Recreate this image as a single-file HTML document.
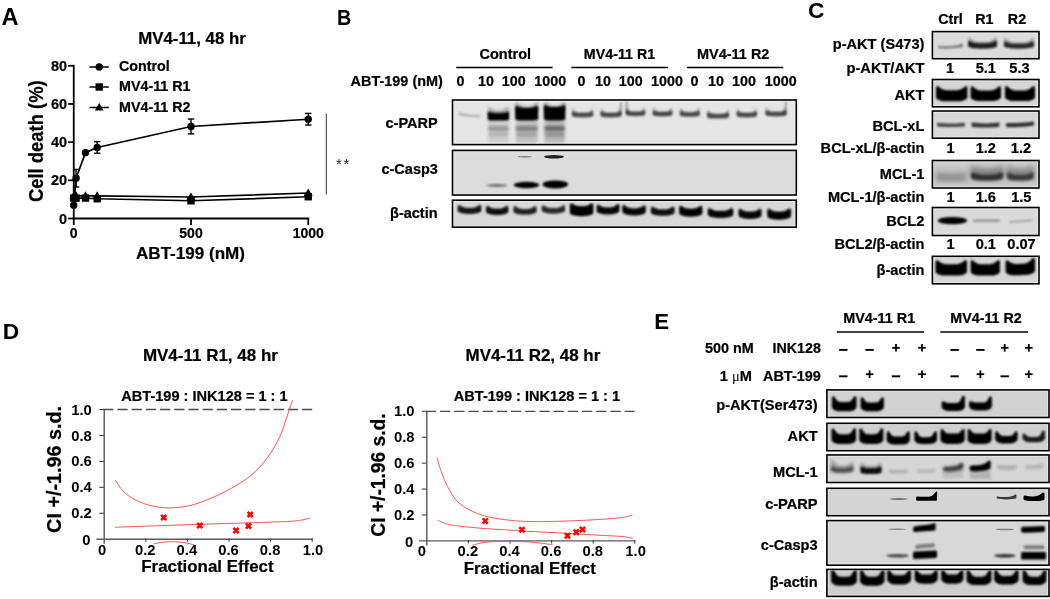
<!DOCTYPE html>
<html lang="en"><head><meta charset="utf-8"><title>Figure</title>
<style>html,body{margin:0;padding:0;background:#fff}svg{display:block}</style></head>
<body>
<svg width="1050" height="599" viewBox="0 0 1050 599" font-family='"Liberation Sans", Arial, Helvetica, sans-serif'>
<defs>
<filter id="b1" filterUnits="userSpaceOnUse" x="0" y="0" width="1050" height="599"><feGaussianBlur stdDeviation="0.9"/></filter>
<filter id="b2" filterUnits="userSpaceOnUse" x="0" y="0" width="1050" height="599"><feGaussianBlur stdDeviation="1.6"/></filter>
<filter id="b3" filterUnits="userSpaceOnUse" x="0" y="0" width="1050" height="599"><feGaussianBlur stdDeviation="2.5"/></filter>
<filter id="b0" filterUnits="userSpaceOnUse" x="0" y="0" width="1050" height="599"><feGaussianBlur stdDeviation="0.6"/></filter>
</defs>
<rect width="1050" height="599" fill="#fff"/>
<text x="1.6" y="25.2" font-size="23.6" text-anchor="start" font-weight="700" fill="#000" >A</text>
<text x="337.1" y="24.6" font-size="22.8" text-anchor="start" font-weight="700" fill="#000" textLength="14.3" lengthAdjust="spacingAndGlyphs" >B</text>
<text x="808" y="17.8" font-size="22.8" text-anchor="start" font-weight="700" fill="#000" >C</text>
<text x="2.8" y="338.9" font-size="22.8" text-anchor="start" font-weight="700" fill="#000" >D</text>
<text x="654.2" y="329.2" font-size="22.2" text-anchor="start" font-weight="700" fill="#000" >E</text>
<text x="192" y="43.6" font-size="16" text-anchor="middle" font-weight="bold" fill="#000" stroke="#000" stroke-width=".22" textLength="107.5" lengthAdjust="spacingAndGlyphs" >MV4-11, 48 hr</text>
<line x1="73.75" y1="64.9" x2="73.75" y2="219.4" stroke="#000" stroke-width="1.8" />
<line x1="72.85" y1="218.5" x2="309.2" y2="218.5" stroke="#000" stroke-width="1.8" />
<line x1="68.15" y1="218.5" x2="73.75" y2="218.5" stroke="#000" stroke-width="1.8" />
<text x="67.2" y="223.5" font-size="14.5" text-anchor="end" font-weight="bold" fill="#000" stroke="#000" stroke-width=".22" >0</text>
<line x1="68.15" y1="180.32" x2="73.75" y2="180.32" stroke="#000" stroke-width="1.8" />
<text x="67.2" y="185.32" font-size="14.5" text-anchor="end" font-weight="bold" fill="#000" stroke="#000" stroke-width=".22" >20</text>
<line x1="68.15" y1="142.14" x2="73.75" y2="142.14" stroke="#000" stroke-width="1.8" />
<text x="67.2" y="147.14" font-size="14.5" text-anchor="end" font-weight="bold" fill="#000" stroke="#000" stroke-width=".22" >40</text>
<line x1="68.15" y1="103.96" x2="73.75" y2="103.96" stroke="#000" stroke-width="1.8" />
<text x="67.2" y="108.96" font-size="14.5" text-anchor="end" font-weight="bold" fill="#000" stroke="#000" stroke-width=".22" >60</text>
<line x1="68.15" y1="65.78" x2="73.75" y2="65.78" stroke="#000" stroke-width="1.8" />
<text x="67.2" y="70.78" font-size="14.5" text-anchor="end" font-weight="bold" fill="#000" stroke="#000" stroke-width=".22" >80</text>
<line x1="73.75" y1="218.5" x2="73.75" y2="225" stroke="#000" stroke-width="1.8" />
<text x="73.75" y="238.2" font-size="14" text-anchor="middle" font-weight="bold" fill="#000" stroke="#000" stroke-width=".22" >0</text>
<line x1="191.0" y1="218.5" x2="191.0" y2="225" stroke="#000" stroke-width="1.8" />
<text x="191.0" y="238.2" font-size="14" text-anchor="middle" font-weight="bold" fill="#000" stroke="#000" stroke-width=".22" >500</text>
<line x1="308.25" y1="218.5" x2="308.25" y2="225" stroke="#000" stroke-width="1.8" />
<text x="308.25" y="238.2" font-size="14" text-anchor="middle" font-weight="bold" fill="#000" stroke="#000" stroke-width=".22" >1000</text>
<text x="190.5" y="259.4" font-size="17" text-anchor="middle" font-weight="bold" fill="#000" stroke="#000" stroke-width=".22" textLength="109" lengthAdjust="spacingAndGlyphs" >ABT-199 (nM)</text>
<text transform="translate(42.8,141.2) rotate(-90)" font-size="19.5" font-weight="bold" stroke="#000" stroke-width=".22" text-anchor="middle" textLength="121.8" lengthAdjust="spacingAndGlyphs">Cell death (%)</text>
<line x1="89.5" y1="67" x2="108.8" y2="67" stroke="#000" stroke-width="1.5" />
<circle cx="99.2" cy="67" r="3.7"/>
<text x="119" y="71.2" font-size="14.3" text-anchor="start" font-weight="bold" fill="#000" stroke="#000" stroke-width=".22" >Control</text>
<line x1="89.5" y1="87" x2="108.8" y2="87" stroke="#000" stroke-width="1.5" />
<rect x="95.5" y="83.3" width="7.4" height="7.4"/>
<text x="119" y="91.2" font-size="14.3" text-anchor="start" font-weight="bold" fill="#000" stroke="#000" stroke-width=".22" >MV4-11 R1</text>
<line x1="89.5" y1="107.5" x2="108.8" y2="107.5" stroke="#000" stroke-width="1.5" />
<path d="M99.2,102.9 l4.4,7.6 h-8.8 z"/>
<text x="119" y="111.7" font-size="14.3" text-anchor="start" font-weight="bold" fill="#000" stroke="#000" stroke-width=".22" >MV4-11 R2</text>
<polyline points="73.75,198.07 76.09,198.07 85.47,198.07 97.20,198.74 191.00,200.75 308.25,196.74" fill="none" stroke="#000" stroke-width="1.7"/>
<polyline points="73.75,195.97 76.09,195.97 85.47,195.97 97.20,195.97 191.00,197.02 308.25,193.01" fill="none" stroke="#000" stroke-width="1.7"/>
<polyline points="73.75,205.14 76.09,178.22 85.47,152.64 97.20,147.49 191.00,126.49 308.25,119.23" fill="none" stroke="#000" stroke-width="1.7"/>
<circle cx="73.75" cy="205.14" r="3.7"/>
<line x1="76.095" y1="187.0015" x2="76.095" y2="169.43869999999998" stroke="#000" stroke-width="1.4" />
<line x1="72.895" y1="187.0015" x2="79.295" y2="187.0015" stroke="#000" stroke-width="1.4" />
<line x1="72.895" y1="169.43869999999998" x2="79.295" y2="169.43869999999998" stroke="#000" stroke-width="1.4" />
<circle cx="76.09" cy="178.22" r="3.7"/>
<circle cx="85.47" cy="152.64" r="3.7"/>
<line x1="97.2" y1="153.30764999999997" x2="97.2" y2="141.66275000000002" stroke="#000" stroke-width="1.4" />
<line x1="94.0" y1="153.30764999999997" x2="100.4" y2="153.30764999999997" stroke="#000" stroke-width="1.4" />
<line x1="94.0" y1="141.66275000000002" x2="100.4" y2="141.66275000000002" stroke="#000" stroke-width="1.4" />
<circle cx="97.20" cy="147.49" r="3.7"/>
<line x1="191.0" y1="133.9313" x2="191.0" y2="119.0411" stroke="#000" stroke-width="1.4" />
<line x1="187.8" y1="133.9313" x2="194.2" y2="133.9313" stroke="#000" stroke-width="1.4" />
<line x1="187.8" y1="119.0411" x2="194.2" y2="119.0411" stroke="#000" stroke-width="1.4" />
<circle cx="191.00" cy="126.49" r="3.7"/>
<line x1="308.25" y1="125.05444999999999" x2="308.25" y2="113.40955000000001" stroke="#000" stroke-width="1.4" />
<line x1="305.05" y1="125.05444999999999" x2="311.45" y2="125.05444999999999" stroke="#000" stroke-width="1.4" />
<line x1="305.05" y1="113.40955000000001" x2="311.45" y2="113.40955000000001" stroke="#000" stroke-width="1.4" />
<circle cx="308.25" cy="119.23" r="3.7"/>
<rect x="70.05" y="194.37" width="7.4" height="7.4"/>
<rect x="72.39" y="194.37" width="7.4" height="7.4"/>
<rect x="81.77" y="194.37" width="7.4" height="7.4"/>
<rect x="93.50" y="195.04" width="7.4" height="7.4"/>
<rect x="187.30" y="197.05" width="7.4" height="7.4"/>
<rect x="304.55" y="193.04" width="7.4" height="7.4"/>
<path d="M73.75,191.37 l4.4,7.6 h-8.8 z"/>
<path d="M76.09,191.37 l4.4,7.6 h-8.8 z"/>
<path d="M85.47,191.37 l4.4,7.6 h-8.8 z"/>
<path d="M97.20,191.37 l4.4,7.6 h-8.8 z"/>
<path d="M191.00,192.42 l4.4,7.6 h-8.8 z"/>
<path d="M308.25,188.41 l4.4,7.6 h-8.8 z"/>
<line x1="326.3" y1="113.8" x2="326.3" y2="194.5" stroke="#333" stroke-width="1" />
<text x="336" y="168.5" font-size="15" text-anchor="start" font-weight="normal" fill="#222" letter-spacing="1.7">**</text>
<text x="505.3" y="59" font-size="14.3" text-anchor="middle" font-weight="bold" fill="#000" stroke="#000" stroke-width=".22" textLength="51.7" lengthAdjust="spacingAndGlyphs" >Control</text>
<text x="619.5" y="59" font-size="14.3" text-anchor="middle" font-weight="bold" fill="#000" stroke="#000" stroke-width=".22" textLength="71.4" lengthAdjust="spacingAndGlyphs" >MV4-11 R1</text>
<text x="733.2" y="59" font-size="14.3" text-anchor="middle" font-weight="bold" fill="#000" stroke="#000" stroke-width=".22" textLength="72.5" lengthAdjust="spacingAndGlyphs" >MV4-11 R2</text>
<line x1="456.2" y1="67.6" x2="552.6" y2="67.6" stroke="#000" stroke-width="1.5" />
<line x1="571.4" y1="67.6" x2="667.9" y2="67.6" stroke="#000" stroke-width="1.5" />
<line x1="687" y1="67.6" x2="783.3" y2="67.6" stroke="#000" stroke-width="1.5" />
<text x="442.9" y="86" font-size="14.5" text-anchor="end" font-weight="bold" fill="#000" stroke="#000" stroke-width=".22" textLength="92.4" lengthAdjust="spacingAndGlyphs" >ABT-199 (nM)</text>
<text x="460.5" y="86" font-size="14.3" text-anchor="middle" font-weight="bold" fill="#000" stroke="#000" stroke-width=".22" >0</text>
<text x="486" y="86" font-size="14.3" text-anchor="middle" font-weight="bold" fill="#000" stroke="#000" stroke-width=".22" >10</text>
<text x="513.8" y="86" font-size="14.3" text-anchor="middle" font-weight="bold" fill="#000" stroke="#000" stroke-width=".22" >100</text>
<text x="550.2" y="86" font-size="14.3" text-anchor="middle" font-weight="bold" fill="#000" stroke="#000" stroke-width=".22" >1000</text>
<text x="581.4" y="86" font-size="14.3" text-anchor="middle" font-weight="bold" fill="#000" stroke="#000" stroke-width=".22" >0</text>
<text x="603" y="86" font-size="14.3" text-anchor="middle" font-weight="bold" fill="#000" stroke="#000" stroke-width=".22" >10</text>
<text x="630.7" y="86" font-size="14.3" text-anchor="middle" font-weight="bold" fill="#000" stroke="#000" stroke-width=".22" >100</text>
<text x="667" y="86" font-size="14.3" text-anchor="middle" font-weight="bold" fill="#000" stroke="#000" stroke-width=".22" >1000</text>
<text x="694.5" y="86" font-size="14.3" text-anchor="middle" font-weight="bold" fill="#000" stroke="#000" stroke-width=".22" >0</text>
<text x="716" y="86" font-size="14.3" text-anchor="middle" font-weight="bold" fill="#000" stroke="#000" stroke-width=".22" >10</text>
<text x="744" y="86" font-size="14.3" text-anchor="middle" font-weight="bold" fill="#000" stroke="#000" stroke-width=".22" >100</text>
<text x="780.7" y="86" font-size="14.3" text-anchor="middle" font-weight="bold" fill="#000" stroke="#000" stroke-width=".22" >1000</text>
<text x="437.6" y="127.6" font-size="14.5" text-anchor="end" font-weight="bold" fill="#000" stroke="#000" stroke-width=".22" >c-PARP</text>
<text x="437.9" y="174.3" font-size="14.5" text-anchor="end" font-weight="bold" fill="#000" stroke="#000" stroke-width=".22" >c-Casp3</text>
<text x="437.6" y="217.6" font-size="14.5" text-anchor="end" font-weight="bold" fill="#000" stroke="#000" stroke-width=".22" >β-actin</text>
<clipPath id="cb1"><rect x="452.5" y="100" width="343.79999999999995" height="44.599999999999994"/></clipPath>
<rect x="452.5" y="100" width="343.79999999999995" height="44.599999999999994" fill="#e5e5e5"/>
<g clip-path="url(#cb1)">
<path d="M459.33,112.98 C463.32,114.64 475.28,115.84 479.27,115.38 L479.27,116.78 C475.28,116.77 463.32,115.57 459.33,114.38 Z" fill="#000" stroke="#000" stroke-width="1.56" stroke-linejoin="round" opacity="0.2" filter="url(#b1)"/>
<rect x="488.15" y="119" width="20.5" height="24" fill="#000" fill-opacity="0.1" filter="url(#b2)"/>
<path d="M489.65,127.40 C493.15,127.40 503.65,127.40 507.15,127.40 L507.15,129.40 C503.65,129.40 493.15,129.40 489.65,129.40 Z" fill="#000" stroke="#000" stroke-width="3.00" stroke-linejoin="round" opacity="0.26" filter="url(#b2)"/>
<path d="M489.70,133.80 C493.18,133.80 503.62,133.80 507.10,133.80 L507.10,135.20 C503.62,135.20 493.18,135.20 489.70,135.20 Z" fill="#000" stroke="#000" stroke-width="2.10" stroke-linejoin="round" opacity="0.14300000000000002" filter="url(#b2)"/>
<rect x="515.7" y="119" width="22" height="24" fill="#000" fill-opacity="0.16" filter="url(#b2)"/>
<path d="M517.20,127.40 C521.00,127.40 532.40,127.40 536.20,127.40 L536.20,129.40 C532.40,129.40 521.00,129.40 517.20,129.40 Z" fill="#000" stroke="#000" stroke-width="3.00" stroke-linejoin="round" opacity="0.32" filter="url(#b2)"/>
<path d="M517.25,133.80 C521.03,133.80 532.37,133.80 536.15,133.80 L536.15,135.20 C532.37,135.20 521.03,135.20 517.25,135.20 Z" fill="#000" stroke="#000" stroke-width="2.10" stroke-linejoin="round" opacity="0.17600000000000002" filter="url(#b2)"/>
<rect x="544.35" y="119" width="20.5" height="24" fill="#000" fill-opacity="0.2" filter="url(#b2)"/>
<path d="M545.85,127.40 C549.35,127.40 559.85,127.40 563.35,127.40 L563.35,129.40 C559.85,129.40 549.35,129.40 545.85,129.40 Z" fill="#000" stroke="#000" stroke-width="3.00" stroke-linejoin="round" opacity="0.42" filter="url(#b2)"/>
<path d="M545.90,133.80 C549.38,133.80 559.82,133.80 563.30,133.80 L563.30,135.20 C559.82,135.20 549.38,135.20 545.90,135.20 Z" fill="#000" stroke="#000" stroke-width="2.10" stroke-linejoin="round" opacity="0.231" filter="url(#b2)"/>
<path d="M489.15,108.50 C492.85,113.16 503.95,113.16 507.65,108.50 L507.65,113.00 C503.95,114.33 492.85,114.33 489.15,113.00 Z" fill="#000" stroke="#000" stroke-width="3.00" stroke-linejoin="round" opacity="0.28" filter="url(#b2)"/>
<path d="M489.15,113.30 C492.85,114.90 503.95,114.90 507.65,113.30 L507.65,118.70 C503.95,119.23 492.85,119.23 489.15,118.70 Z" fill="#000" stroke="#000" stroke-width="3.00" stroke-linejoin="round" opacity="1" filter="url(#b1)"/>
<path d="M516.70,104.00 C520.70,109.32 532.70,109.32 536.70,104.00 L536.70,110.00 C532.70,111.33 520.70,111.33 516.70,110.00 Z" fill="#000" stroke="#000" stroke-width="3.00" stroke-linejoin="round" opacity="0.3" filter="url(#b2)"/>
<path d="M516.70,107.50 C520.70,110.16 532.70,110.16 536.70,107.50 L536.70,118.60 C532.70,119.27 520.70,119.27 516.70,118.60 Z" fill="#000" stroke="#000" stroke-width="3.00" stroke-linejoin="round" opacity="1" filter="url(#b1)"/>
<path d="M545.35,103.50 C549.05,108.82 560.15,108.82 563.85,103.50 L563.85,109.50 C560.15,110.83 549.05,110.83 545.35,109.50 Z" fill="#000" stroke="#000" stroke-width="3.00" stroke-linejoin="round" opacity="0.3" filter="url(#b2)"/>
<path d="M545.35,106.60 C549.05,109.26 560.15,109.26 563.85,106.60 L563.85,118.50 C560.15,119.17 549.05,119.17 545.35,118.50 Z" fill="#000" stroke="#000" stroke-width="3.00" stroke-linejoin="round" opacity="1" filter="url(#b1)"/>
<path d="M573.0,109.3 L574.4,111.4 L575.8,112.4 L577.1,112.9 L578.5,113.1 L579.9,113.1 L581.2,113.1 L582.6,113.1 L584.0,113.1 L585.3,113.1 L586.7,113.1 L588.1,112.9 L589.4,112.4 L590.8,111.4 L592.2,109.3 L592.2,113.3 L590.8,113.8 L589.4,114.2 L588.1,114.4 L586.7,114.4 L585.3,114.5 L584.0,114.5 L582.6,114.5 L581.2,114.5 L579.9,114.5 L578.5,114.4 L577.1,114.4 L575.8,114.2 L574.4,113.8 L573.0,113.3 Z" fill="#000" stroke="#000" stroke-width="2.04" stroke-linejoin="round" opacity="0.2" filter="url(#b1)"/>
<path d="M573.3,112.8 L574.6,113.4 L576.0,113.9 L577.3,114.1 L578.6,114.2 L579.9,114.3 L581.3,114.3 L582.6,114.3 L583.9,114.3 L585.3,114.3 L586.6,114.2 L587.9,114.1 L589.2,113.9 L590.6,113.4 L591.9,112.8 L591.9,115.4 L590.6,115.7 L589.2,115.9 L587.9,116.0 L586.6,116.0 L585.3,116.1 L583.9,116.1 L582.6,116.1 L581.3,116.1 L579.9,116.1 L578.6,116.0 L577.3,116.0 L576.0,115.9 L574.6,115.7 L573.3,115.4 Z" fill="#000" stroke="#000" stroke-width="2.64" stroke-linejoin="round" opacity="0.64" filter="url(#b1)"/>
<path d="M601.5,109.3 L602.9,111.4 L604.2,112.4 L605.6,112.9 L606.9,113.1 L608.3,113.1 L609.6,113.1 L611.0,113.1 L612.4,113.1 L613.7,113.1 L615.1,113.1 L616.4,112.9 L617.8,112.4 L619.1,111.4 L620.5,109.3 L620.5,113.3 L619.1,113.8 L617.8,114.2 L616.4,114.4 L615.1,114.4 L613.7,114.5 L612.4,114.5 L611.0,114.5 L609.6,114.5 L608.3,114.5 L606.9,114.4 L605.6,114.4 L604.2,114.2 L602.9,113.8 L601.5,113.3 Z" fill="#000" stroke="#000" stroke-width="2.04" stroke-linejoin="round" opacity="0.2" filter="url(#b1)"/>
<path d="M601.8,112.8 L603.1,113.4 L604.4,113.9 L605.8,114.1 L607.1,114.2 L608.4,114.3 L609.7,114.3 L611.0,114.3 L612.3,114.3 L613.6,114.3 L614.9,114.2 L616.2,114.1 L617.6,113.9 L618.9,113.4 L620.2,112.8 L620.2,115.4 L618.9,115.7 L617.6,115.9 L616.2,116.0 L614.9,116.0 L613.6,116.1 L612.3,116.1 L611.0,116.1 L609.7,116.1 L608.4,116.1 L607.1,116.0 L605.8,116.0 L604.4,115.9 L603.1,115.7 L601.8,115.4 Z" fill="#000" stroke="#000" stroke-width="2.64" stroke-linejoin="round" opacity="0.64" filter="url(#b1)"/>
<path d="M620.3,115.2 L620.9,102.2" stroke="#000" stroke-opacity=".3" stroke-width="2" filter="url(#b1)"/>
<path d="M626.9,108.1 L628.1,110.2 L629.4,111.2 L630.6,111.7 L631.9,111.9 L633.1,111.9 L634.4,111.9 L635.6,111.9 L636.8,111.9 L638.1,111.9 L639.3,111.9 L640.6,111.7 L641.8,111.2 L643.1,110.2 L644.3,108.1 L644.3,112.1 L643.1,112.6 L641.8,113.0 L640.6,113.2 L639.3,113.2 L638.1,113.3 L636.8,113.3 L635.6,113.3 L634.4,113.3 L633.1,113.3 L631.9,113.2 L630.6,113.2 L629.4,113.0 L628.1,112.6 L626.9,112.1 Z" fill="#000" stroke="#000" stroke-width="2.04" stroke-linejoin="round" opacity="0.2" filter="url(#b1)"/>
<path d="M627.2,111.6 L628.4,112.2 L629.6,112.7 L630.8,112.9 L632.0,113.0 L633.2,113.1 L634.4,113.1 L635.6,113.1 L636.8,113.1 L638.0,113.1 L639.2,113.0 L640.4,112.9 L641.6,112.7 L642.8,112.2 L644.0,111.6 L644.0,114.2 L642.8,114.5 L641.6,114.7 L640.4,114.8 L639.2,114.8 L638.0,114.9 L636.8,114.9 L635.6,114.9 L634.4,114.9 L633.2,114.9 L632.0,114.8 L630.8,114.8 L629.6,114.7 L628.4,114.5 L627.2,114.2 Z" fill="#000" stroke="#000" stroke-width="2.64" stroke-linejoin="round" opacity="0.64" filter="url(#b1)"/>
<path d="M627.0500000000001,114 L626.45,101" stroke="#000" stroke-opacity=".3" stroke-width="2" filter="url(#b1)"/>
<path d="M653.7,108.3 L654.9,110.4 L656.2,111.4 L657.5,111.9 L658.7,112.1 L660.0,112.1 L661.2,112.1 L662.5,112.1 L663.8,112.1 L665.0,112.1 L666.3,112.1 L667.5,111.9 L668.8,111.4 L670.1,110.4 L671.3,108.3 L671.3,112.3 L670.1,112.8 L668.8,113.2 L667.5,113.4 L666.3,113.4 L665.0,113.5 L663.8,113.5 L662.5,113.5 L661.2,113.5 L660.0,113.5 L658.7,113.4 L657.5,113.4 L656.2,113.2 L654.9,112.8 L653.7,112.3 Z" fill="#000" stroke="#000" stroke-width="2.04" stroke-linejoin="round" opacity="0.2" filter="url(#b1)"/>
<path d="M654.0,111.8 L655.2,112.4 L656.4,112.9 L657.6,113.1 L658.8,113.2 L660.1,113.3 L661.3,113.3 L662.5,113.3 L663.7,113.3 L664.9,113.3 L666.2,113.2 L667.4,113.1 L668.6,112.9 L669.8,112.4 L671.0,111.8 L671.0,114.4 L669.8,114.7 L668.6,114.9 L667.4,115.0 L666.2,115.0 L664.9,115.1 L663.7,115.1 L662.5,115.1 L661.3,115.1 L660.1,115.1 L658.8,115.0 L657.6,115.0 L656.4,114.9 L655.2,114.7 L654.0,114.4 Z" fill="#000" stroke="#000" stroke-width="2.64" stroke-linejoin="round" opacity="0.64" filter="url(#b1)"/>
<path d="M680.8,108.7 L682.1,110.8 L683.4,111.8 L684.7,112.3 L686.0,112.5 L687.2,112.5 L688.5,112.5 L689.8,112.5 L691.1,112.5 L692.4,112.5 L693.6,112.5 L694.9,112.3 L696.2,111.8 L697.5,110.8 L698.8,108.7 L698.8,112.7 L697.5,113.2 L696.2,113.6 L694.9,113.8 L693.6,113.8 L692.4,113.9 L691.1,113.9 L689.8,113.9 L688.5,113.9 L687.2,113.9 L686.0,113.8 L684.7,113.8 L683.4,113.6 L682.1,113.2 L680.8,112.7 Z" fill="#000" stroke="#000" stroke-width="2.04" stroke-linejoin="round" opacity="0.2" filter="url(#b1)"/>
<path d="M681.1,112.2 L682.4,112.8 L683.6,113.3 L684.8,113.5 L686.1,113.6 L687.3,113.7 L688.6,113.7 L689.8,113.7 L691.0,113.7 L692.3,113.7 L693.5,113.6 L694.8,113.5 L696.0,113.3 L697.2,112.8 L698.5,112.2 L698.5,114.8 L697.2,115.1 L696.0,115.3 L694.8,115.4 L693.5,115.4 L692.3,115.5 L691.0,115.5 L689.8,115.5 L688.6,115.5 L687.3,115.5 L686.1,115.4 L684.8,115.4 L683.6,115.3 L682.4,115.1 L681.1,114.8 Z" fill="#000" stroke="#000" stroke-width="2.64" stroke-linejoin="round" opacity="0.64" filter="url(#b1)"/>
<path d="M708.0,110.5 L709.4,112.6 L710.9,113.6 L712.3,114.1 L713.7,114.3 L715.1,114.3 L716.6,114.3 L718.0,114.3 L719.4,114.3 L720.9,114.3 L722.3,114.3 L723.7,114.1 L725.1,113.6 L726.6,112.6 L728.0,110.5 L728.0,114.5 L726.6,115.0 L725.1,115.4 L723.7,115.6 L722.3,115.6 L720.9,115.7 L719.4,115.7 L718.0,115.7 L716.6,115.7 L715.1,115.7 L713.7,115.6 L712.3,115.6 L710.9,115.4 L709.4,115.0 L708.0,114.5 Z" fill="#000" stroke="#000" stroke-width="2.04" stroke-linejoin="round" opacity="0.2" filter="url(#b1)"/>
<path d="M708.3,114.0 L709.7,114.6 L711.1,115.1 L712.5,115.3 L713.9,115.4 L715.2,115.5 L716.6,115.5 L718.0,115.5 L719.4,115.5 L720.8,115.5 L722.1,115.4 L723.5,115.3 L724.9,115.1 L726.3,114.6 L727.7,114.0 L727.7,116.6 L726.3,116.9 L724.9,117.1 L723.5,117.2 L722.1,117.2 L720.8,117.3 L719.4,117.3 L718.0,117.3 L716.6,117.3 L715.2,117.3 L713.9,117.2 L712.5,117.2 L711.1,117.1 L709.7,116.9 L708.3,116.6 Z" fill="#000" stroke="#000" stroke-width="2.64" stroke-linejoin="round" opacity="0.64" filter="url(#b1)"/>
<path d="M737.6,109.3 L738.9,111.4 L740.2,112.4 L741.5,112.9 L742.8,113.1 L744.2,113.1 L745.5,113.1 L746.8,113.1 L748.1,113.1 L749.4,113.1 L750.8,113.1 L752.1,112.9 L753.4,112.4 L754.7,111.4 L756.0,109.3 L756.0,113.3 L754.7,113.8 L753.4,114.2 L752.1,114.4 L750.8,114.4 L749.4,114.5 L748.1,114.5 L746.8,114.5 L745.5,114.5 L744.2,114.5 L742.8,114.4 L741.5,114.4 L740.2,114.2 L738.9,113.8 L737.6,113.3 Z" fill="#000" stroke="#000" stroke-width="2.04" stroke-linejoin="round" opacity="0.2" filter="url(#b1)"/>
<path d="M737.9,112.8 L739.1,113.4 L740.4,113.9 L741.7,114.1 L743.0,114.2 L744.2,114.3 L745.5,114.3 L746.8,114.3 L748.1,114.3 L749.4,114.3 L750.6,114.2 L751.9,114.1 L753.2,113.9 L754.5,113.4 L755.7,112.8 L755.7,115.4 L754.5,115.7 L753.2,115.9 L751.9,116.0 L750.6,116.0 L749.4,116.1 L748.1,116.1 L746.8,116.1 L745.5,116.1 L744.2,116.1 L743.0,116.0 L741.7,116.0 L740.4,115.9 L739.1,115.7 L737.9,115.4 Z" fill="#000" stroke="#000" stroke-width="2.64" stroke-linejoin="round" opacity="0.64" filter="url(#b1)"/>
<path d="M766.5,108.3 L767.9,110.4 L769.2,111.4 L770.6,111.9 L771.9,112.1 L773.3,112.1 L774.6,112.1 L776.0,112.1 L777.4,112.1 L778.7,112.1 L780.1,112.1 L781.4,111.9 L782.8,111.4 L784.1,110.4 L785.5,108.3 L785.5,112.3 L784.1,112.8 L782.8,113.2 L781.4,113.4 L780.1,113.4 L778.7,113.5 L777.4,113.5 L776.0,113.5 L774.6,113.5 L773.3,113.5 L771.9,113.4 L770.6,113.4 L769.2,113.2 L767.9,112.8 L766.5,112.3 Z" fill="#000" stroke="#000" stroke-width="2.04" stroke-linejoin="round" opacity="0.2" filter="url(#b1)"/>
<path d="M766.8,111.8 L768.1,112.4 L769.4,112.9 L770.8,113.1 L772.1,113.2 L773.4,113.3 L774.7,113.3 L776.0,113.3 L777.3,113.3 L778.6,113.3 L779.9,113.2 L781.2,113.1 L782.6,112.9 L783.9,112.4 L785.2,111.8 L785.2,114.4 L783.9,114.7 L782.6,114.9 L781.2,115.0 L779.9,115.0 L778.6,115.1 L777.3,115.1 L776.0,115.1 L774.7,115.1 L773.4,115.1 L772.1,115.0 L770.8,115.0 L769.4,114.9 L768.1,114.7 L766.8,114.4 Z" fill="#000" stroke="#000" stroke-width="2.64" stroke-linejoin="round" opacity="0.64" filter="url(#b1)"/>
<path d="M785.3,114.2 L785.9,101.2" stroke="#000" stroke-opacity=".3" stroke-width="2" filter="url(#b1)"/>
</g>
<rect x="453.8" y="101.3" width="341.19999999999993" height="41.99999999999999" fill="none" stroke="#fff" stroke-opacity=".4" stroke-width="1"/>
<rect x="452.5" y="100" width="343.79999999999995" height="44.599999999999994" fill="none" stroke="#000" stroke-width="1.6"/>
<clipPath id="cb2"><rect x="452.5" y="150.4" width="343.79999999999995" height="44.599999999999994"/></clipPath>
<rect x="452.5" y="150.4" width="343.79999999999995" height="44.599999999999994" fill="#dcdcdc"/>
<g clip-path="url(#cb2)">
<ellipse cx="497" cy="185.5" rx="10.5" ry="1.4" fill="#000" opacity="0.5" filter="url(#b1)"/>
<ellipse cx="526.5" cy="185" rx="12.75" ry="3.3" fill="#000" opacity="1" filter="url(#b1)"/>
<ellipse cx="524.8" cy="156.7" rx="7.5" ry="0.75" fill="#000" opacity="0.4" filter="url(#b0)"/>
<ellipse cx="555.3" cy="184.4" rx="12.75" ry="4.0" fill="#000" opacity="1" filter="url(#b1)"/>
<ellipse cx="554" cy="156.7" rx="10.0" ry="1.7" fill="#000" opacity="0.85" filter="url(#b0)"/>
</g>
<rect x="453.8" y="151.70000000000002" width="341.19999999999993" height="41.99999999999999" fill="none" stroke="#fff" stroke-opacity=".4" stroke-width="1"/>
<rect x="452.5" y="150.4" width="343.79999999999995" height="44.599999999999994" fill="none" stroke="#000" stroke-width="1.6"/>
<clipPath id="cb3"><rect x="452.5" y="200.2" width="343.79999999999995" height="27.0"/></clipPath>
<rect x="452.5" y="200.2" width="343.79999999999995" height="27.0" fill="#d8d8d8"/>
<g clip-path="url(#cb3)">
<path d="M459.0,205.4 L460.5,206.7 L462.0,207.6 L463.5,208.3 L465.0,208.7 L466.5,208.9 L468.0,208.9 L469.5,209.0 L471.0,208.9 L472.5,208.9 L474.0,208.7 L475.5,208.3 L477.0,207.6 L478.5,206.7 L480.0,205.4 L480.0,209.0 L478.5,209.6 L477.0,210.1 L475.5,210.3 L474.0,210.5 L472.5,210.6 L471.0,210.6 L469.5,210.6 L468.0,210.6 L466.5,210.6 L465.0,210.5 L463.5,210.3 L462.0,210.1 L460.5,209.6 L459.0,209.0 Z" fill="#000" stroke="#000" stroke-width="2.52" stroke-linejoin="round" opacity="0.2" filter="url(#b1)"/>
<path d="M459.2,206.9 L460.7,207.8 L462.2,208.4 L463.6,208.9 L465.1,209.2 L466.6,209.4 L468.0,209.5 L469.5,209.5 L471.0,209.5 L472.4,209.4 L473.9,209.2 L475.4,208.9 L476.8,208.4 L478.3,207.8 L479.8,206.9 L479.8,210.7 L478.3,211.3 L476.8,211.7 L475.4,212.1 L473.9,212.3 L472.4,212.4 L471.0,212.5 L469.5,212.5 L468.0,212.5 L466.6,212.4 L465.1,212.3 L463.6,212.1 L462.2,211.7 L460.7,211.3 L459.2,210.7 Z" fill="#000" stroke="#000" stroke-width="3.00" stroke-linejoin="round" opacity="0.88" filter="url(#b1)"/>
<path d="M487.4,206.2 L488.8,207.6 L490.2,208.5 L491.6,209.2 L493.0,209.5 L494.4,209.7 L495.8,209.8 L497.2,209.8 L498.6,209.8 L500.0,209.7 L501.4,209.5 L502.8,209.2 L504.2,208.5 L505.6,207.6 L507.0,206.2 L507.0,210.0 L505.6,210.6 L504.2,211.0 L502.8,211.3 L501.4,211.4 L500.0,211.5 L498.6,211.6 L497.2,211.6 L495.8,211.6 L494.4,211.5 L493.0,211.4 L491.6,211.3 L490.2,211.0 L488.8,210.6 L487.4,210.0 Z" fill="#000" stroke="#000" stroke-width="2.60" stroke-linejoin="round" opacity="0.2" filter="url(#b1)"/>
<path d="M487.6,207.7 L488.9,208.6 L490.3,209.2 L491.7,209.7 L493.1,210.0 L494.4,210.2 L495.8,210.3 L497.2,210.3 L498.6,210.3 L500.0,210.2 L501.3,210.0 L502.7,209.7 L504.1,209.2 L505.5,208.6 L506.8,207.7 L506.8,211.7 L505.5,212.3 L504.1,212.7 L502.7,213.1 L501.3,213.3 L500.0,213.4 L498.6,213.5 L497.2,213.5 L495.8,213.5 L494.4,213.4 L493.1,213.3 L491.7,213.1 L490.3,212.7 L488.9,212.3 L487.6,211.7 Z" fill="#000" stroke="#000" stroke-width="3.00" stroke-linejoin="round" opacity="0.92" filter="url(#b1)"/>
<path d="M514.7,206.4 L516.2,207.7 L517.6,208.7 L519.1,209.3 L520.6,209.7 L522.1,209.9 L523.5,210.0 L525.0,210.0 L526.5,210.0 L527.9,209.9 L529.4,209.7 L530.9,209.3 L532.4,208.7 L533.8,207.7 L535.3,206.4 L535.3,210.0 L533.8,210.6 L532.4,211.0 L530.9,211.3 L529.4,211.5 L527.9,211.5 L526.5,211.6 L525.0,211.6 L523.5,211.6 L522.1,211.5 L520.6,211.5 L519.1,211.3 L517.6,211.0 L516.2,210.6 L514.7,210.0 Z" fill="#000" stroke="#000" stroke-width="2.35" stroke-linejoin="round" opacity="0.2" filter="url(#b1)"/>
<path d="M515.0,208.1 L516.4,209.0 L517.9,209.6 L519.3,210.1 L520.7,210.4 L522.1,210.6 L523.6,210.7 L525.0,210.7 L526.4,210.7 L527.9,210.6 L529.3,210.4 L530.7,210.1 L532.1,209.6 L533.6,209.0 L535.0,208.1 L535.0,211.5 L533.6,212.1 L532.1,212.5 L530.7,212.9 L529.3,213.1 L527.9,213.2 L526.4,213.3 L525.0,213.3 L523.6,213.3 L522.1,213.2 L520.7,213.1 L519.3,212.9 L517.9,212.5 L516.4,212.1 L515.0,211.5 Z" fill="#000" stroke="#000" stroke-width="3.00" stroke-linejoin="round" opacity="0.82" filter="url(#b1)"/>
<path d="M542.9,205.4 L544.4,206.8 L545.9,207.7 L547.4,208.4 L548.9,208.8 L550.4,209.0 L551.9,209.0 L553.4,209.0 L554.9,209.0 L556.4,209.0 L557.9,208.8 L559.4,208.4 L560.9,207.7 L562.4,206.8 L563.9,205.4 L563.9,209.0 L562.4,209.5 L560.9,210.0 L559.4,210.3 L557.9,210.4 L556.4,210.5 L554.9,210.6 L553.4,210.6 L551.9,210.6 L550.4,210.5 L548.9,210.4 L547.4,210.3 L545.9,210.0 L544.4,209.5 L542.9,209.0 Z" fill="#000" stroke="#000" stroke-width="2.27" stroke-linejoin="round" opacity="0.2" filter="url(#b1)"/>
<path d="M543.3,207.2 L544.7,208.1 L546.2,208.7 L547.6,209.2 L549.1,209.5 L550.5,209.7 L552.0,209.8 L553.4,209.8 L554.8,209.8 L556.3,209.7 L557.7,209.5 L559.2,209.2 L560.6,208.7 L562.1,208.1 L563.5,207.2 L563.5,210.4 L562.1,211.0 L560.6,211.4 L559.2,211.8 L557.7,212.0 L556.3,212.1 L554.8,212.2 L553.4,212.2 L552.0,212.2 L550.5,212.1 L549.1,212.0 L547.6,211.8 L546.2,211.4 L544.7,211.0 L543.3,210.4 Z" fill="#000" stroke="#000" stroke-width="3.00" stroke-linejoin="round" opacity="0.78" filter="url(#b1)"/>
<path d="M571.5,204.4 L572.9,205.7 L574.4,206.7 L575.8,207.3 L577.3,207.7 L578.7,207.9 L580.2,208.0 L581.6,208.0 L583.0,208.0 L584.5,207.9 L585.9,207.7 L587.4,207.3 L588.8,206.7 L590.3,205.7 L591.7,204.4 L591.7,210.4 L590.3,211.0 L588.8,211.4 L587.4,211.7 L585.9,211.9 L584.5,212.0 L583.0,212.0 L581.6,212.0 L580.2,212.0 L578.7,212.0 L577.3,211.9 L575.8,211.7 L574.4,211.4 L572.9,211.0 L571.5,210.4 Z" fill="#000" stroke="#000" stroke-width="3.00" stroke-linejoin="round" opacity="0.2" filter="url(#b1)"/>
<path d="M571.5,205.1 L572.9,206.0 L574.4,206.6 L575.8,207.1 L577.3,207.4 L578.7,207.6 L580.2,207.7 L581.6,207.7 L583.0,207.7 L584.5,207.6 L585.9,207.4 L587.4,207.1 L588.8,206.6 L590.3,206.0 L591.7,205.1 L591.7,212.9 L590.3,213.5 L588.8,213.9 L587.4,214.3 L585.9,214.5 L584.5,214.6 L583.0,214.7 L581.6,214.7 L580.2,214.7 L578.7,214.6 L577.3,214.5 L575.8,214.3 L574.4,213.9 L572.9,213.5 L571.5,212.9 Z" fill="#000" stroke="#000" stroke-width="3.00" stroke-linejoin="round" opacity="1" filter="url(#b1)"/>
<path d="M598.2,205.2 L599.6,206.6 L601.0,207.5 L602.4,208.1 L603.8,208.5 L605.1,208.7 L606.5,208.8 L607.9,208.8 L609.3,208.8 L610.7,208.7 L612.0,208.5 L613.4,208.1 L614.8,207.5 L616.2,206.6 L617.6,205.2 L617.6,209.2 L616.2,209.8 L614.8,210.2 L613.4,210.5 L612.0,210.7 L610.7,210.7 L609.3,210.8 L607.9,210.8 L606.5,210.8 L605.1,210.7 L603.8,210.7 L602.4,210.5 L601.0,210.2 L599.6,209.8 L598.2,209.2 Z" fill="#000" stroke="#000" stroke-width="2.94" stroke-linejoin="round" opacity="0.2" filter="url(#b1)"/>
<path d="M598.2,206.4 L599.6,207.3 L601.0,207.9 L602.4,208.4 L603.8,208.7 L605.1,208.9 L606.5,209.0 L607.9,209.0 L609.3,209.0 L610.7,208.9 L612.0,208.7 L613.4,208.4 L614.8,207.9 L616.2,207.3 L617.5,206.4 L617.5,211.2 L616.2,211.8 L614.8,212.2 L613.4,212.6 L612.0,212.8 L610.7,212.9 L609.3,213.0 L607.9,213.0 L606.5,213.0 L605.1,212.9 L603.8,212.8 L602.4,212.6 L601.0,212.2 L599.6,211.8 L598.2,211.2 Z" fill="#000" stroke="#000" stroke-width="3.00" stroke-linejoin="round" opacity="0.96" filter="url(#b1)"/>
<path d="M617.8499999999999,211 L618.25,204" stroke="#000" stroke-opacity=".5" stroke-width="2.4" filter="url(#b1)"/>
<path d="M624.2,206.1 L625.6,207.5 L627.0,208.4 L628.5,209.0 L629.9,209.4 L631.3,209.6 L632.8,209.7 L634.2,209.7 L635.6,209.7 L637.1,209.6 L638.5,209.4 L639.9,209.0 L641.4,208.4 L642.8,207.5 L644.2,206.1 L644.2,210.1 L642.8,210.7 L641.4,211.1 L639.9,211.4 L638.5,211.6 L637.1,211.6 L635.6,211.7 L634.2,211.7 L632.8,211.7 L631.3,211.6 L629.9,211.6 L628.5,211.4 L627.0,211.1 L625.6,210.7 L624.2,210.1 Z" fill="#000" stroke="#000" stroke-width="2.94" stroke-linejoin="round" opacity="0.2" filter="url(#b1)"/>
<path d="M624.2,207.3 L625.6,208.2 L627.1,208.8 L628.5,209.3 L629.9,209.6 L631.3,209.8 L632.8,209.9 L634.2,209.9 L635.6,209.9 L637.1,209.8 L638.5,209.6 L639.9,209.3 L641.3,208.8 L642.8,208.2 L644.2,207.3 L644.2,212.1 L642.8,212.7 L641.3,213.1 L639.9,213.5 L638.5,213.7 L637.1,213.8 L635.6,213.9 L634.2,213.9 L632.8,213.9 L631.3,213.8 L629.9,213.7 L628.5,213.5 L627.1,213.1 L625.6,212.7 L624.2,212.1 Z" fill="#000" stroke="#000" stroke-width="3.00" stroke-linejoin="round" opacity="0.96" filter="url(#b1)"/>
<path d="M623.9000000000001,211.9 L623.5,204.9" stroke="#000" stroke-opacity=".5" stroke-width="2.4" filter="url(#b1)"/>
<path d="M652.2,207.0 L653.7,208.4 L655.2,209.3 L656.7,210.0 L658.2,210.3 L659.7,210.5 L661.2,210.6 L662.7,210.6 L664.2,210.6 L665.7,210.5 L667.2,210.3 L668.7,210.0 L670.2,209.3 L671.7,208.4 L673.2,207.0 L673.2,210.8 L671.7,211.4 L670.2,211.8 L668.7,212.1 L667.2,212.2 L665.7,212.3 L664.2,212.4 L662.7,212.4 L661.2,212.4 L659.7,212.3 L658.2,212.2 L656.7,212.1 L655.2,211.8 L653.7,211.4 L652.2,210.8 Z" fill="#000" stroke="#000" stroke-width="2.60" stroke-linejoin="round" opacity="0.2" filter="url(#b1)"/>
<path d="M652.4,208.5 L653.9,209.4 L655.3,210.0 L656.8,210.5 L658.3,210.8 L659.8,211.0 L661.2,211.1 L662.7,211.1 L664.2,211.1 L665.6,211.0 L667.1,210.8 L668.6,210.5 L670.1,210.0 L671.5,209.4 L673.0,208.5 L673.0,212.5 L671.5,213.1 L670.1,213.5 L668.6,213.9 L667.1,214.1 L665.6,214.2 L664.2,214.3 L662.7,214.3 L661.2,214.3 L659.8,214.2 L658.3,214.1 L656.8,213.9 L655.3,213.5 L653.9,213.1 L652.4,212.5 Z" fill="#000" stroke="#000" stroke-width="3.00" stroke-linejoin="round" opacity="0.92" filter="url(#b1)"/>
<path d="M680.8,206.6 L682.2,207.9 L683.7,208.9 L685.1,209.5 L686.5,209.9 L687.9,210.1 L689.4,210.2 L690.8,210.2 L692.2,210.2 L693.7,210.1 L695.1,209.9 L696.5,209.5 L697.9,208.9 L699.4,207.9 L700.8,206.6 L700.8,211.2 L699.4,211.8 L697.9,212.2 L696.5,212.5 L695.1,212.7 L693.7,212.8 L692.2,212.8 L690.8,212.8 L689.4,212.8 L687.9,212.8 L686.5,212.7 L685.1,212.5 L683.7,212.2 L682.2,211.8 L680.8,211.2 Z" fill="#000" stroke="#000" stroke-width="3.00" stroke-linejoin="round" opacity="0.2" filter="url(#b1)"/>
<path d="M680.8,207.6 L682.2,208.5 L683.7,209.1 L685.1,209.6 L686.5,209.9 L687.9,210.1 L689.4,210.2 L690.8,210.2 L692.2,210.2 L693.7,210.1 L695.1,209.9 L696.5,209.6 L697.9,209.1 L699.4,208.5 L700.8,207.6 L700.8,213.4 L699.4,214.0 L697.9,214.4 L696.5,214.8 L695.1,215.0 L693.7,215.1 L692.2,215.2 L690.8,215.2 L689.4,215.2 L687.9,215.1 L686.5,215.0 L685.1,214.8 L683.7,214.4 L682.2,214.0 L680.8,213.4 Z" fill="#000" stroke="#000" stroke-width="3.00" stroke-linejoin="round" opacity="0.98" filter="url(#b1)"/>
<path d="M709.3,208.7 L710.9,210.1 L712.5,211.0 L714.1,211.6 L715.7,212.0 L717.3,212.2 L718.9,212.3 L720.5,212.3 L722.1,212.3 L723.7,212.2 L725.3,212.0 L726.9,211.6 L728.5,211.0 L730.1,210.1 L731.7,208.7 L731.7,212.7 L730.1,213.3 L728.5,213.7 L726.9,214.0 L725.3,214.2 L723.7,214.2 L722.1,214.3 L720.5,214.3 L718.9,214.3 L717.3,214.2 L715.7,214.2 L714.1,214.0 L712.5,213.7 L710.9,213.3 L709.3,212.7 Z" fill="#000" stroke="#000" stroke-width="2.94" stroke-linejoin="round" opacity="0.2" filter="url(#b1)"/>
<path d="M709.3,209.9 L710.9,210.8 L712.5,211.4 L714.1,211.9 L715.7,212.2 L717.3,212.4 L718.9,212.5 L720.5,212.5 L722.1,212.5 L723.7,212.4 L725.3,212.2 L726.9,211.9 L728.5,211.4 L730.1,210.8 L731.7,209.9 L731.7,214.7 L730.1,215.3 L728.5,215.7 L726.9,216.1 L725.3,216.3 L723.7,216.4 L722.1,216.5 L720.5,216.5 L718.9,216.5 L717.3,216.4 L715.7,216.3 L714.1,216.1 L712.5,215.7 L710.9,215.3 L709.3,214.7 Z" fill="#000" stroke="#000" stroke-width="3.00" stroke-linejoin="round" opacity="0.96" filter="url(#b1)"/>
<path d="M740.1,209.5 L741.5,210.8 L742.9,211.8 L744.3,212.4 L745.8,212.8 L747.2,213.0 L748.6,213.1 L750.0,213.1 L751.4,213.1 L752.8,213.0 L754.2,212.8 L755.7,212.4 L757.1,211.8 L758.5,210.8 L759.9,209.5 L759.9,213.5 L758.5,214.1 L757.1,214.5 L755.7,214.8 L754.2,215.0 L752.8,215.1 L751.4,215.1 L750.0,215.1 L748.6,215.1 L747.2,215.1 L745.8,215.0 L744.3,214.8 L742.9,214.5 L741.5,214.1 L740.1,213.5 Z" fill="#000" stroke="#000" stroke-width="3.00" stroke-linejoin="round" opacity="0.2" filter="url(#b1)"/>
<path d="M740.1,210.6 L741.5,211.5 L742.9,212.1 L744.3,212.6 L745.8,212.9 L747.2,213.1 L748.6,213.2 L750.0,213.2 L751.4,213.2 L752.8,213.1 L754.2,212.9 L755.7,212.6 L757.1,212.1 L758.5,211.5 L759.9,210.6 L759.9,215.6 L758.5,216.2 L757.1,216.6 L755.7,217.0 L754.2,217.2 L752.8,217.3 L751.4,217.4 L750.0,217.4 L748.6,217.4 L747.2,217.3 L745.8,217.2 L744.3,217.0 L742.9,216.6 L741.5,216.2 L740.1,215.6 Z" fill="#000" stroke="#000" stroke-width="3.00" stroke-linejoin="round" opacity="0.97" filter="url(#b1)"/>
<path d="M768.9,209.6 L770.3,210.9 L771.8,211.9 L773.2,212.5 L774.7,212.9 L776.1,213.1 L777.6,213.2 L779.0,213.2 L780.4,213.2 L781.9,213.1 L783.3,212.9 L784.8,212.5 L786.2,211.9 L787.7,210.9 L789.1,209.6 L789.1,214.2 L787.7,214.8 L786.2,215.2 L784.8,215.5 L783.3,215.7 L781.9,215.8 L780.4,215.8 L779.0,215.8 L777.6,215.8 L776.1,215.8 L774.7,215.7 L773.2,215.5 L771.8,215.2 L770.3,214.8 L768.9,214.2 Z" fill="#000" stroke="#000" stroke-width="3.00" stroke-linejoin="round" opacity="0.2" filter="url(#b1)"/>
<path d="M768.9,210.6 L770.3,211.5 L771.8,212.1 L773.2,212.6 L774.7,212.9 L776.1,213.1 L777.6,213.2 L779.0,213.2 L780.4,213.2 L781.9,213.1 L783.3,212.9 L784.8,212.6 L786.2,212.1 L787.7,211.5 L789.1,210.6 L789.1,216.4 L787.7,217.0 L786.2,217.4 L784.8,217.8 L783.3,218.0 L781.9,218.1 L780.4,218.2 L779.0,218.2 L777.6,218.2 L776.1,218.1 L774.7,218.0 L773.2,217.8 L771.8,217.4 L770.3,217.0 L768.9,216.4 Z" fill="#000" stroke="#000" stroke-width="3.00" stroke-linejoin="round" opacity="0.98" filter="url(#b1)"/>
<path d="M789.4,215.7 L789.8000000000001,208.7" stroke="#000" stroke-opacity=".5" stroke-width="2.4" filter="url(#b1)"/>
</g>
<rect x="453.8" y="201.5" width="341.19999999999993" height="24.4" fill="none" stroke="#fff" stroke-opacity=".4" stroke-width="1"/>
<rect x="452.5" y="200.2" width="343.79999999999995" height="27.0" fill="none" stroke="#000" stroke-width="1.6"/>
<text x="950.5" y="23.5" font-size="14.3" text-anchor="middle" font-weight="bold" fill="#000" stroke="#000" stroke-width=".22" >Ctrl</text>
<text x="984.3" y="23.5" font-size="14.3" text-anchor="middle" font-weight="bold" fill="#000" stroke="#000" stroke-width=".22" >R1</text>
<text x="1017" y="23.5" font-size="14.3" text-anchor="middle" font-weight="bold" fill="#000" stroke="#000" stroke-width=".22" >R2</text>
<text x="924.4" y="49.3" font-size="14.6" text-anchor="end" font-weight="bold" fill="#000" stroke="#000" stroke-width=".22" >p-AKT (S473)</text>
<text x="924.4" y="99.8" font-size="14.6" text-anchor="end" font-weight="bold" fill="#000" stroke="#000" stroke-width=".22" >AKT</text>
<text x="924.4" y="131.2" font-size="14.6" text-anchor="end" font-weight="bold" fill="#000" stroke="#000" stroke-width=".22" >BCL-xL</text>
<text x="924.4" y="179.2" font-size="14.6" text-anchor="end" font-weight="bold" fill="#000" stroke="#000" stroke-width=".22" >MCL-1</text>
<text x="924.4" y="226.4" font-size="14.6" text-anchor="end" font-weight="bold" fill="#000" stroke="#000" stroke-width=".22" >BCL2</text>
<text x="924.4" y="275" font-size="14.6" text-anchor="end" font-weight="bold" fill="#000" stroke="#000" stroke-width=".22" >β-actin</text>
<text x="924.4" y="72.6" font-size="14.6" text-anchor="end" font-weight="bold" fill="#000" stroke="#000" stroke-width=".22" >p-AKT/AKT</text>
<text x="950" y="72.6" font-size="14.6" text-anchor="middle" font-weight="bold" fill="#000" stroke="#000" stroke-width=".22" >1</text>
<text x="985.8" y="72.6" font-size="14.6" text-anchor="middle" font-weight="bold" fill="#000" stroke="#000" stroke-width=".22" >5.1</text>
<text x="1019.5" y="72.6" font-size="14.6" text-anchor="middle" font-weight="bold" fill="#000" stroke="#000" stroke-width=".22" >5.3</text>
<text x="924.4" y="153.4" font-size="14.6" text-anchor="end" font-weight="bold" fill="#000" stroke="#000" stroke-width=".22" >BCL-xL/β-actin</text>
<text x="950.5" y="153.4" font-size="14.6" text-anchor="middle" font-weight="bold" fill="#000" stroke="#000" stroke-width=".22" >1</text>
<text x="985.8" y="153.4" font-size="14.6" text-anchor="middle" font-weight="bold" fill="#000" stroke="#000" stroke-width=".22" >1.2</text>
<text x="1021" y="153.4" font-size="14.6" text-anchor="middle" font-weight="bold" fill="#000" stroke="#000" stroke-width=".22" >1.2</text>
<text x="924.4" y="202" font-size="14.6" text-anchor="end" font-weight="bold" fill="#000" stroke="#000" stroke-width=".22" >MCL-1/β-actin</text>
<text x="950.5" y="202" font-size="14.6" text-anchor="middle" font-weight="bold" fill="#000" stroke="#000" stroke-width=".22" >1</text>
<text x="985.8" y="202" font-size="14.6" text-anchor="middle" font-weight="bold" fill="#000" stroke="#000" stroke-width=".22" >1.6</text>
<text x="1021.3" y="202" font-size="14.6" text-anchor="middle" font-weight="bold" fill="#000" stroke="#000" stroke-width=".22" >1.5</text>
<text x="924.4" y="248.8" font-size="14.6" text-anchor="end" font-weight="bold" fill="#000" stroke="#000" stroke-width=".22" >BCL2/β-actin</text>
<text x="950.5" y="248.8" font-size="14.6" text-anchor="middle" font-weight="bold" fill="#000" stroke="#000" stroke-width=".22" >1</text>
<text x="985.8" y="248.8" font-size="14.6" text-anchor="middle" font-weight="bold" fill="#000" stroke="#000" stroke-width=".22" >0.1</text>
<text x="1021.5" y="248.8" font-size="14.6" text-anchor="middle" font-weight="bold" fill="#000" stroke="#000" stroke-width=".22" >0.07</text>
<clipPath id="cc0"><rect x="932.4" y="31.6" width="106.60000000000002" height="27.1"/></clipPath>
<rect x="932.4" y="31.6" width="106.60000000000002" height="27.1" fill="#dcdcdc"/>
<g clip-path="url(#cc0)">
<path d="M938.78,46.58 C943.47,47.13 957.53,47.16 962.22,43.98 L962.22,46.56 C957.53,47.69 943.47,48.19 938.78,47.56 Z" fill="#000" stroke="#000" stroke-width="1.56" stroke-linejoin="round" opacity="0.4" filter="url(#b1)"/>
<path d="M969.2,38.4 L971.1,40.0 L973.0,41.2 L974.9,42.0 L976.8,42.5 L978.7,42.7 L980.6,42.8 L982.5,42.8 L984.4,42.8 L986.3,42.7 L988.2,42.5 L990.1,42.0 L992.0,41.2 L993.9,40.0 L995.8,38.4 L995.8,42.4 L993.9,43.5 L992.0,44.0 L990.1,44.3 L988.2,44.4 L986.3,44.4 L984.4,44.4 L982.5,44.4 L980.6,44.4 L978.7,44.4 L976.8,44.4 L974.9,44.3 L973.0,44.0 L971.1,43.5 L969.2,42.4 Z" fill="#000" stroke="#000" stroke-width="2.40" stroke-linejoin="round" opacity="0.22" filter="url(#b1)"/>
<path d="M969.5,42.4 L971.4,43.3 L973.2,43.9 L975.1,44.4 L976.9,44.6 L978.8,44.7 L980.6,44.8 L982.5,44.8 L984.4,44.8 L986.2,44.7 L988.1,44.6 L989.9,44.4 L991.8,43.9 L993.6,43.3 L995.5,42.4 L995.5,45.8 L993.6,46.3 L991.8,46.7 L989.9,46.9 L988.1,47.1 L986.2,47.2 L984.4,47.2 L982.5,47.2 L980.6,47.2 L978.8,47.2 L976.9,47.1 L975.1,46.9 L973.2,46.7 L971.4,46.3 L969.5,45.8 Z" fill="#000" stroke="#000" stroke-width="3.00" stroke-linejoin="round" opacity="0.85" filter="url(#b1)"/>
<path d="M1005.2,38.8 L1007.2,40.4 L1009.1,41.6 L1011.1,42.4 L1013.1,42.9 L1015.1,43.1 L1017.0,43.2 L1019.0,43.2 L1021.0,43.2 L1022.9,43.1 L1024.9,42.9 L1026.9,42.4 L1028.9,41.6 L1030.8,40.4 L1032.8,38.8 L1032.8,42.8 L1030.8,43.9 L1028.9,44.4 L1026.9,44.7 L1024.9,44.8 L1022.9,44.8 L1021.0,44.8 L1019.0,44.8 L1017.0,44.8 L1015.1,44.8 L1013.1,44.8 L1011.1,44.7 L1009.1,44.4 L1007.2,43.9 L1005.2,42.8 Z" fill="#000" stroke="#000" stroke-width="2.40" stroke-linejoin="round" opacity="0.2" filter="url(#b1)"/>
<path d="M1005.4,42.9 L1007.4,43.8 L1009.3,44.5 L1011.3,44.9 L1013.2,45.2 L1015.1,45.3 L1017.1,45.3 L1019.0,45.3 L1020.9,45.3 L1022.9,45.3 L1024.8,45.2 L1026.7,44.9 L1028.7,44.5 L1030.6,43.8 L1032.6,42.9 L1032.6,45.9 L1030.6,46.4 L1028.7,46.7 L1026.7,47.0 L1024.8,47.1 L1022.9,47.2 L1020.9,47.3 L1019.0,47.3 L1017.1,47.3 L1015.1,47.2 L1013.2,47.1 L1011.3,47.0 L1009.3,46.7 L1007.4,46.4 L1005.4,45.9 Z" fill="#000" stroke="#000" stroke-width="2.88" stroke-linejoin="round" opacity="0.8" filter="url(#b1)"/>
</g>
<rect x="933.6999999999999" y="32.9" width="104.00000000000003" height="24.5" fill="none" stroke="#fff" stroke-opacity=".4" stroke-width="1"/>
<rect x="932.4" y="31.6" width="106.60000000000002" height="27.1" fill="none" stroke="#000" stroke-width="1.6"/>
<clipPath id="cc1"><rect x="932.4" y="79.5" width="106.60000000000002" height="27.299999999999997"/></clipPath>
<rect x="932.4" y="79.5" width="106.60000000000002" height="27.299999999999997" fill="#d6d6d6"/>
<g clip-path="url(#cc1)">
<path d="M937.5,87.6 L939.5,89.4 L941.6,90.5 L943.6,91.2 L945.6,91.6 L947.6,91.7 L949.7,91.8 L951.7,91.8 L953.7,91.8 L955.8,91.7 L957.8,91.6 L959.8,91.2 L961.8,90.5 L963.9,89.4 L965.9,87.6 L965.9,97.4 L963.9,98.7 L961.8,99.4 L959.8,99.7 L957.8,99.8 L955.8,99.8 L953.7,99.8 L951.7,99.8 L949.7,99.8 L947.6,99.8 L945.6,99.8 L943.6,99.7 L941.6,99.4 L939.5,98.7 L937.5,97.4 Z" fill="#000" stroke="#000" stroke-width="3.00" stroke-linejoin="round" opacity="1" filter="url(#b1)"/>
<path d="M972.1,87.8 L974.1,89.6 L976.0,90.7 L978.0,91.4 L979.9,91.8 L981.9,91.9 L983.8,92.0 L985.8,92.0 L987.8,92.0 L989.7,91.9 L991.7,91.8 L993.6,91.4 L995.6,90.7 L997.5,89.6 L999.5,87.8 L999.5,97.2 L997.5,98.5 L995.6,99.2 L993.6,99.5 L991.7,99.6 L989.7,99.6 L987.8,99.6 L985.8,99.6 L983.8,99.6 L981.9,99.6 L979.9,99.6 L978.0,99.5 L976.0,99.2 L974.1,98.5 L972.1,97.2 Z" fill="#000" stroke="#000" stroke-width="3.00" stroke-linejoin="round" opacity="1" filter="url(#b1)"/>
<path d="M1006.5,87.6 L1008.4,89.4 L1010.4,90.6 L1012.3,91.4 L1014.2,91.8 L1016.1,91.9 L1018.1,92.0 L1020.0,92.0 L1021.9,92.0 L1023.9,91.9 L1025.8,91.8 L1027.7,91.4 L1029.6,90.6 L1031.6,89.4 L1033.5,87.6 L1033.5,97.2 L1031.6,98.5 L1029.6,99.2 L1027.7,99.5 L1025.8,99.6 L1023.9,99.6 L1021.9,99.6 L1020.0,99.6 L1018.1,99.6 L1016.1,99.6 L1014.2,99.6 L1012.3,99.5 L1010.4,99.2 L1008.4,98.5 L1006.5,97.2 Z" fill="#000" stroke="#000" stroke-width="3.00" stroke-linejoin="round" opacity="1" filter="url(#b1)"/>
</g>
<rect x="933.6999999999999" y="80.8" width="104.00000000000003" height="24.699999999999996" fill="none" stroke="#fff" stroke-opacity=".4" stroke-width="1"/>
<rect x="932.4" y="79.5" width="106.60000000000002" height="27.299999999999997" fill="none" stroke="#000" stroke-width="1.6"/>
<clipPath id="cc2"><rect x="932.4" y="111" width="106.60000000000002" height="27.19999999999999"/></clipPath>
<rect x="932.4" y="111" width="106.60000000000002" height="27.19999999999999" fill="#d8d8d8"/>
<g clip-path="url(#cc2)">
<path d="M938.02,123.72 C943.21,124.78 958.79,124.78 963.98,123.72 L963.98,125.44 C958.79,126.03 943.21,126.03 938.02,125.44 Z" fill="#000" stroke="#000" stroke-width="2.04" stroke-linejoin="round" opacity="0.68" filter="url(#b1)"/>
<path d="M972.70,123.80 C977.82,124.86 993.18,124.86 998.30,123.80 L998.30,125.76 C993.18,126.35 977.82,126.35 972.70,125.76 Z" fill="#000" stroke="#000" stroke-width="2.40" stroke-linejoin="round" opacity="0.75" filter="url(#b1)"/>
<path d="M1007.20,124.20 C1012.32,124.60 1027.68,123.80 1032.80,122.60 L1032.80,124.47 C1027.68,125.31 1012.32,126.11 1007.20,126.07 Z" fill="#000" stroke="#000" stroke-width="2.40" stroke-linejoin="round" opacity="0.78" filter="url(#b1)"/>
</g>
<rect x="933.6999999999999" y="112.3" width="104.00000000000003" height="24.599999999999987" fill="none" stroke="#fff" stroke-opacity=".4" stroke-width="1"/>
<rect x="932.4" y="111" width="106.60000000000002" height="27.19999999999999" fill="none" stroke="#000" stroke-width="1.6"/>
<clipPath id="cc3"><rect x="932.4" y="160.5" width="106.60000000000002" height="27.5"/></clipPath>
<rect x="932.4" y="160.5" width="106.60000000000002" height="27.5" fill="#cdcdcd"/>
<g clip-path="url(#cc3)">
<rect x="932.4" y="168" width="106.60000000000002" height="16" fill="#000" fill-opacity=".06" filter="url(#b3)"/>
<path d="M937.80,174.00 C943.20,175.33 959.40,175.33 964.80,174.00 L964.80,179.45 C959.40,180.18 943.20,180.18 937.80,179.45 Z" fill="#000" stroke="#000" stroke-width="3.00" stroke-linejoin="round" opacity="0.25" filter="url(#b3)"/>
<path d="M972.00,166.50 C978.00,170.49 996.00,170.49 1002.00,166.50 L1002.00,174.85 C996.00,177.04 978.00,177.04 972.00,174.85 Z" fill="#000" stroke="#000" stroke-width="3.00" stroke-linejoin="round" opacity="0.3" filter="url(#b3)"/>
<path d="M972.50,173.70 C978.30,177.16 995.70,177.16 1001.50,173.70 L1001.50,177.80 C995.70,179.80 978.30,179.80 972.50,177.80 Z" fill="#000" stroke="#000" stroke-width="3.00" stroke-linejoin="round" opacity="0.72" filter="url(#b2)"/>
<path d="M1008.30,166.50 C1013.10,170.49 1027.50,170.49 1032.30,166.50 L1032.30,174.85 C1027.50,177.04 1013.10,177.04 1008.30,174.85 Z" fill="#000" stroke="#000" stroke-width="3.00" stroke-linejoin="round" opacity="0.27" filter="url(#b3)"/>
<path d="M1008.30,173.70 C1013.10,177.16 1027.50,177.16 1032.30,173.70 L1032.30,177.80 C1027.50,179.80 1013.10,179.80 1008.30,177.80 Z" fill="#000" stroke="#000" stroke-width="3.00" stroke-linejoin="round" opacity="0.66" filter="url(#b2)"/>
</g>
<rect x="933.6999999999999" y="161.8" width="104.00000000000003" height="24.9" fill="none" stroke="#fff" stroke-opacity=".4" stroke-width="1"/>
<rect x="932.4" y="160.5" width="106.60000000000002" height="27.5" fill="none" stroke="#000" stroke-width="1.6"/>
<clipPath id="cc4"><rect x="932.4" y="207.5" width="106.60000000000002" height="28.0"/></clipPath>
<rect x="932.4" y="207.5" width="106.60000000000002" height="28.0" fill="#dadada"/>
<g clip-path="url(#cc4)">
<ellipse cx="952.4" cy="220.6" rx="14.75" ry="3.7" fill="#000" opacity="1" filter="url(#b1)"/>
<path d="M973.72,220.32 C978.83,220.32 994.17,220.32 999.28,220.32 L999.28,221.28 C994.17,221.28 978.83,221.28 973.72,221.28 Z" fill="#000" stroke="#000" stroke-width="1.44" stroke-linejoin="round" opacity="0.3" filter="url(#b1)"/>
<path d="M1009.96,221.86 C1014.30,220.88 1027.30,219.98 1031.64,220.06 L1031.64,220.76 C1027.30,220.92 1014.30,221.82 1009.96,222.56 Z" fill="#000" stroke="#000" stroke-width="1.32" stroke-linejoin="round" opacity="0.24" filter="url(#b1)"/>
</g>
<rect x="933.6999999999999" y="208.8" width="104.00000000000003" height="25.4" fill="none" stroke="#fff" stroke-opacity=".4" stroke-width="1"/>
<rect x="932.4" y="207.5" width="106.60000000000002" height="28.0" fill="none" stroke="#000" stroke-width="1.6"/>
<clipPath id="cc5"><rect x="932.4" y="256.3" width="106.60000000000002" height="27.5"/></clipPath>
<rect x="932.4" y="256.3" width="106.60000000000002" height="27.5" fill="#d6d6d6"/>
<g clip-path="url(#cc5)">
<path d="M937.0,261.7 L939.0,263.4 L941.0,264.5 L943.1,265.1 L945.1,265.5 L947.1,265.7 L949.2,265.7 L951.2,265.7 L953.2,265.7 L955.3,265.7 L957.3,265.5 L959.3,265.1 L961.4,264.5 L963.4,263.4 L965.5,261.7 L965.5,271.7 L963.4,273.0 L961.4,273.7 L959.3,274.0 L957.3,274.1 L955.3,274.1 L953.2,274.1 L951.2,274.1 L949.2,274.1 L947.1,274.1 L945.1,274.1 L943.1,274.0 L941.0,273.7 L939.0,273.0 L937.0,271.7 Z" fill="#000" stroke="#000" stroke-width="3.00" stroke-linejoin="round" opacity="1" filter="url(#b1)"/>
<path d="M972.1,261.7 L973.9,263.4 L975.8,264.5 L977.7,265.1 L979.6,265.5 L981.4,265.7 L983.3,265.7 L985.2,265.7 L987.1,265.7 L989.0,265.7 L990.8,265.5 L992.7,265.1 L994.6,264.5 L996.5,263.4 L998.4,261.7 L998.4,271.7 L996.5,273.0 L994.6,273.7 L992.7,274.0 L990.8,274.1 L989.0,274.1 L987.1,274.1 L985.2,274.1 L983.3,274.1 L981.4,274.1 L979.6,274.1 L977.7,274.0 L975.8,273.7 L973.9,273.0 L972.1,271.7 Z" fill="#000" stroke="#000" stroke-width="3.00" stroke-linejoin="round" opacity="1" filter="url(#b1)"/>
<path d="M1007.1,261.8 L1009.0,263.4 L1010.9,264.4 L1012.8,265.0 L1014.7,265.3 L1016.5,265.4 L1018.4,265.4 L1020.3,265.3 L1022.2,265.2 L1024.1,265.1 L1025.9,264.8 L1027.8,264.2 L1029.7,263.2 L1031.6,261.7 L1033.5,259.3 L1033.5,270.8 L1031.6,272.2 L1029.7,272.9 L1027.8,273.3 L1025.9,273.5 L1024.1,273.6 L1022.2,273.6 L1020.3,273.7 L1018.4,273.8 L1016.5,273.8 L1014.7,273.9 L1012.8,273.8 L1010.9,273.6 L1009.0,273.0 L1007.1,271.8 Z" fill="#000" stroke="#000" stroke-width="3.00" stroke-linejoin="round" opacity="1" filter="url(#b1)"/>
</g>
<rect x="933.6999999999999" y="257.6" width="104.00000000000003" height="24.9" fill="none" stroke="#fff" stroke-opacity=".4" stroke-width="1"/>
<rect x="932.4" y="256.3" width="106.60000000000002" height="27.5" fill="none" stroke="#000" stroke-width="1.6"/>
<text x="142.9" y="360.6" font-size="17" text-anchor="start" font-weight="bold" fill="#000" stroke="#000" stroke-width=".22" textLength="135" lengthAdjust="spacingAndGlyphs" >MV4-11 R1, 48 hr</text>
<text x="121.3" y="400.8" font-size="14.6" text-anchor="start" font-weight="bold" fill="#000" stroke="#000" stroke-width=".22" textLength="166.3" lengthAdjust="spacingAndGlyphs" >ABT-199 : INK128 = 1 : 1</text>
<line x1="104.2" y1="409.5" x2="104.2" y2="543.7" stroke="#5a5a5a" stroke-width="1.4" />
<line x1="96.4" y1="539.2" x2="312.7" y2="539.2" stroke="#5a5a5a" stroke-width="1.4" />
<line x1="99.2" y1="409.5" x2="104.2" y2="409.5" stroke="#444" stroke-width="1.1" />
<line x1="103.2" y1="409.5" x2="312.2" y2="409.5" stroke="#4a4a4a" stroke-width="1.3" stroke-dasharray="10.3 3.9"/>
<line x1="99.2" y1="513.26" x2="104.2" y2="513.26" stroke="#444" stroke-width="1.1" />
<line x1="145.8" y1="538.2" x2="145.8" y2="541.7" stroke="#444" stroke-width="1.1" />
<line x1="99.2" y1="487.32000000000005" x2="104.2" y2="487.32000000000005" stroke="#444" stroke-width="1.1" />
<line x1="187.4" y1="538.2" x2="187.4" y2="541.7" stroke="#444" stroke-width="1.1" />
<line x1="99.2" y1="461.38" x2="104.2" y2="461.38" stroke="#444" stroke-width="1.1" />
<line x1="229.0" y1="538.2" x2="229.0" y2="541.7" stroke="#444" stroke-width="1.1" />
<line x1="99.2" y1="435.44" x2="104.2" y2="435.44" stroke="#444" stroke-width="1.1" />
<line x1="270.6" y1="538.2" x2="270.6" y2="541.7" stroke="#444" stroke-width="1.1" />
<line x1="312.2" y1="538.2" x2="312.2" y2="541.7" stroke="#444" stroke-width="1.1" />
<text x="91.8" y="518.36" font-size="14.8" text-anchor="end" font-weight="700" fill="#000" >0.2</text>
<text x="145.3" y="554.7" font-size="14.8" text-anchor="middle" font-weight="700" fill="#000" >0.2</text>
<text x="91.8" y="492.4200000000001" font-size="14.8" text-anchor="end" font-weight="700" fill="#000" >0.4</text>
<text x="186.9" y="554.7" font-size="14.8" text-anchor="middle" font-weight="700" fill="#000" >0.4</text>
<text x="91.8" y="466.48" font-size="14.8" text-anchor="end" font-weight="700" fill="#000" >0.6</text>
<text x="228.5" y="554.7" font-size="14.8" text-anchor="middle" font-weight="700" fill="#000" >0.6</text>
<text x="91.8" y="440.54" font-size="14.8" text-anchor="end" font-weight="700" fill="#000" >0.8</text>
<text x="270.1" y="554.7" font-size="14.8" text-anchor="middle" font-weight="700" fill="#000" >0.8</text>
<text x="91.8" y="414.6" font-size="14.8" text-anchor="end" font-weight="700" fill="#000" >1.0</text>
<text x="313.0" y="554.7" font-size="14.8" text-anchor="middle" font-weight="700" fill="#000" >1.0</text>
<text x="90.5" y="544.9000000000001" font-size="14.8" text-anchor="end" font-weight="700" fill="#000" >0</text>
<text x="102" y="554.7" font-size="14.8" text-anchor="middle" font-weight="700" fill="#000" >0</text>
<text x="141.25" y="571.9000000000001" font-size="17" text-anchor="start" font-weight="bold" fill="#000" stroke="#000" stroke-width=".22" textLength="132.4" lengthAdjust="spacingAndGlyphs" >Fractional Effect</text>
<text transform="translate(61,469.4) rotate(-90)" font-size="19.5" font-weight="bold" stroke="#000" stroke-width=".22" text-anchor="middle" textLength="127" lengthAdjust="spacingAndGlyphs">CI +/-1.96 s.d.</text>
<path d="M115,480 C116.67,482.17 120.83,489.33 125,493 C129.17,496.67 135.00,499.75 140,502 C145.00,504.25 150.21,505.50 155,506.5 C159.79,507.50 163.75,508.00 168.75,508 C173.75,508.00 179.79,507.42 185,506.5 C190.21,505.58 193.33,504.96 200,502.5 C206.67,500.04 216.67,496.12 225,491.75 C233.33,487.38 242.92,481.96 250,476.25 C257.08,470.54 262.50,464.17 267.5,457.5 C272.50,450.83 276.67,443.33 280,436.25 C283.33,429.17 285.42,421.04 287.5,415 C289.58,408.96 291.67,402.50 292.5,400" fill="none" stroke="#f55" stroke-width="1"/>
<path d="M115,527.25 C120.83,527.04 135.83,526.49 150,526 C164.17,525.51 183.33,524.83 200,524.3 C216.67,523.77 235.00,523.30 250,522.8 C265.00,522.30 281.17,521.80 290,521.3 C298.83,520.80 299.67,520.35 303,519.8 C306.33,519.25 308.83,518.30 310,518" fill="none" stroke="#f55" stroke-width="1"/>
<path d="M153.75,543.8 C155.29,543.53 159.88,542.55 163,542.2 C166.12,541.85 169.00,541.63 172.5,541.7 C176.00,541.77 180.33,542.05 184,542.6 C187.67,543.15 192.75,544.60 194.5,545" fill="none" stroke="#f55" stroke-width="1"/>
<path d="M161.1,514.8 L166.29999999999998,520.0 M161.1,520.0 L166.29999999999998,514.8" stroke="#f00" stroke-width="2.6" fill="none"/>
<path d="M197.20000000000002,523.0 L202.4,528.2 M197.20000000000002,528.2 L202.4,523.0" stroke="#f00" stroke-width="2.6" fill="none"/>
<path d="M233.4,528.0 L238.6,533.2 M233.4,533.2 L238.6,528.0" stroke="#f00" stroke-width="2.6" fill="none"/>
<path d="M245.9,523.5 L251.1,528.7 M245.9,528.7 L251.1,523.5" stroke="#f00" stroke-width="2.6" fill="none"/>
<path d="M247.6,511.79999999999995 L252.79999999999998,517.0 M247.6,517.0 L252.79999999999998,511.79999999999995" stroke="#f00" stroke-width="2.6" fill="none"/>
<text x="465.5" y="360.6" font-size="17" text-anchor="start" font-weight="bold" fill="#000" stroke="#000" stroke-width=".22" textLength="134.8" lengthAdjust="spacingAndGlyphs" >MV4-11 R2, 48 hr</text>
<text x="453.8" y="400.8" font-size="14.6" text-anchor="start" font-weight="bold" fill="#000" stroke="#000" stroke-width=".22" textLength="166.3" lengthAdjust="spacingAndGlyphs" >ABT-199 : INK128 = 1 : 1</text>
<line x1="426.8" y1="411.3" x2="426.8" y2="545.4" stroke="#5a5a5a" stroke-width="1.4" />
<line x1="419.0" y1="540.9" x2="635.3" y2="540.9" stroke="#5a5a5a" stroke-width="1.4" />
<line x1="421.8" y1="411.3" x2="426.8" y2="411.3" stroke="#444" stroke-width="1.1" />
<line x1="425.8" y1="411.3" x2="634.8" y2="411.3" stroke="#4a4a4a" stroke-width="1.3" stroke-dasharray="10.3 3.9"/>
<line x1="421.8" y1="514.98" x2="426.8" y2="514.98" stroke="#444" stroke-width="1.1" />
<line x1="468.40000000000003" y1="539.9" x2="468.40000000000003" y2="543.4" stroke="#444" stroke-width="1.1" />
<line x1="421.8" y1="489.06" x2="426.8" y2="489.06" stroke="#444" stroke-width="1.1" />
<line x1="510.0" y1="539.9" x2="510.0" y2="543.4" stroke="#444" stroke-width="1.1" />
<line x1="421.8" y1="463.14" x2="426.8" y2="463.14" stroke="#444" stroke-width="1.1" />
<line x1="551.6" y1="539.9" x2="551.6" y2="543.4" stroke="#444" stroke-width="1.1" />
<line x1="421.8" y1="437.22" x2="426.8" y2="437.22" stroke="#444" stroke-width="1.1" />
<line x1="593.2" y1="539.9" x2="593.2" y2="543.4" stroke="#444" stroke-width="1.1" />
<line x1="634.8" y1="539.9" x2="634.8" y2="543.4" stroke="#444" stroke-width="1.1" />
<text x="414.5" y="520.08" font-size="14.8" text-anchor="end" font-weight="700" fill="#000" >0.2</text>
<text x="467.90000000000003" y="556.4" font-size="14.8" text-anchor="middle" font-weight="700" fill="#000" >0.2</text>
<text x="414.5" y="494.16" font-size="14.8" text-anchor="end" font-weight="700" fill="#000" >0.4</text>
<text x="509.5" y="556.4" font-size="14.8" text-anchor="middle" font-weight="700" fill="#000" >0.4</text>
<text x="414.5" y="468.24" font-size="14.8" text-anchor="end" font-weight="700" fill="#000" >0.6</text>
<text x="551.1" y="556.4" font-size="14.8" text-anchor="middle" font-weight="700" fill="#000" >0.6</text>
<text x="414.5" y="442.32000000000005" font-size="14.8" text-anchor="end" font-weight="700" fill="#000" >0.8</text>
<text x="592.7" y="556.4" font-size="14.8" text-anchor="middle" font-weight="700" fill="#000" >0.8</text>
<text x="414.5" y="416.40000000000003" font-size="14.8" text-anchor="end" font-weight="700" fill="#000" >1.0</text>
<text x="635.5999999999999" y="556.4" font-size="14.8" text-anchor="middle" font-weight="700" fill="#000" >1.0</text>
<text x="413.2" y="546.6" font-size="14.8" text-anchor="end" font-weight="700" fill="#000" >0</text>
<text x="421.75" y="556.4" font-size="14.8" text-anchor="middle" font-weight="700" fill="#000" >0</text>
<text x="463.75" y="573.6" font-size="17" text-anchor="start" font-weight="bold" fill="#000" stroke="#000" stroke-width=".22" textLength="132" lengthAdjust="spacingAndGlyphs" >Fractional Effect</text>
<text transform="translate(385.4,475) rotate(-90)" font-size="19.5" font-weight="bold" stroke="#000" stroke-width=".22" text-anchor="middle" textLength="123.3" lengthAdjust="spacingAndGlyphs">CI +/-1.96 s.d.</text>
<path d="M437,457.75 C437.71,460.04 439.50,466.71 441.25,471.5 C443.00,476.29 444.79,481.50 447.5,486.5 C450.21,491.50 453.75,497.54 457.5,501.5 C461.25,505.46 465.42,507.83 470,510.25 C474.58,512.67 480.00,514.54 485,516 C490.00,517.46 493.75,518.12 500,519 C506.25,519.88 514.17,520.88 522.5,521.3 C530.83,521.72 540.42,521.63 550,521.5 C559.58,521.37 570.00,520.97 580,520.5 C590.00,520.03 602.50,519.28 610,518.7 C617.50,518.12 621.25,517.62 625,517 C628.75,516.38 631.25,515.33 632.5,515" fill="none" stroke="#f55" stroke-width="1"/>
<path d="M437.5,520.25 C439.58,521.00 443.75,523.50 450,524.75 C456.25,526.00 466.67,526.96 475,527.75 C483.33,528.54 492.08,528.96 500,529.5 C507.92,530.04 512.50,530.42 522.5,531 C532.50,531.58 547.08,532.29 560,533 C572.92,533.71 589.67,534.67 600,535.25 C610.33,535.83 616.58,536.00 622,536.5 C627.42,537.00 630.75,537.96 632.5,538.25" fill="none" stroke="#f55" stroke-width="1"/>
<path d="M472.5,545.3 C474.08,544.88 478.25,543.42 482,542.8 C485.75,542.18 488.67,541.82 495,541.6 C501.33,541.38 512.50,541.27 520,541.5 C527.50,541.73 534.58,542.45 540,543 C545.42,543.55 550.42,544.50 552.5,544.8" fill="none" stroke="#f55" stroke-width="1"/>
<path d="M482.65,518.4 L487.85,523.6 M482.65,523.6 L487.85,518.4" stroke="#f00" stroke-width="2.6" fill="none"/>
<path d="M519.4,527.15 L524.6,532.35 M519.4,532.35 L524.6,527.15" stroke="#f00" stroke-width="2.6" fill="none"/>
<path d="M564.9,533.15 L570.1,538.35 M564.9,538.35 L570.1,533.15" stroke="#f00" stroke-width="2.6" fill="none"/>
<path d="M573.65,529.65 L578.85,534.85 M573.65,534.85 L578.85,529.65" stroke="#f00" stroke-width="2.6" fill="none"/>
<path d="M579.9,526.9 L585.1,532.1 M579.9,532.1 L585.1,526.9" stroke="#f00" stroke-width="2.6" fill="none"/>
<text x="879.2" y="322.6" font-size="14.3" text-anchor="middle" font-weight="bold" fill="#000" stroke="#000" stroke-width=".22" textLength="71.9" lengthAdjust="spacingAndGlyphs" >MV4-11 R1</text>
<text x="986" y="322.6" font-size="14.3" text-anchor="middle" font-weight="bold" fill="#000" stroke="#000" stroke-width=".22" textLength="71.5" lengthAdjust="spacingAndGlyphs" >MV4-11 R2</text>
<line x1="836.8" y1="331.9" x2="924" y2="331.9" stroke="#000" stroke-width="1.5" />
<line x1="940.3" y1="331.9" x2="1028" y2="331.9" stroke="#000" stroke-width="1.5" />
<text x="753.8" y="353.4" font-size="14.6" text-anchor="end" font-weight="bold" fill="#000" stroke="#000" stroke-width=".22" textLength="48.8" lengthAdjust="spacingAndGlyphs" >500 nM</text>
<text x="820.8" y="353.4" font-size="14.6" text-anchor="end" font-weight="bold" fill="#000" stroke="#000" stroke-width=".22" textLength="48.3" lengthAdjust="spacingAndGlyphs" >INK128</text>
<text x="752" y="380.6" font-size="14.6" font-weight="bold" stroke="#000" stroke-width=".22" text-anchor="end">1 <tspan font-weight="normal" stroke="none" font-family='"Liberation Serif", "DejaVu Serif", serif'>μ</tspan>M</text>
<text x="820.8" y="380.6" font-size="14.6" text-anchor="end" font-weight="bold" fill="#000" stroke="#000" stroke-width=".22" textLength="57.8" lengthAdjust="spacingAndGlyphs" >ABT-199</text>
<line x1="839.0999999999999" y1="349.90000000000003" x2="847.5" y2="349.90000000000003" stroke="#000" stroke-width="1.9" />
<line x1="839.0999999999999" y1="376.3" x2="847.5" y2="376.3" stroke="#000" stroke-width="1.9" />
<line x1="865.4" y1="349.90000000000003" x2="873.8000000000001" y2="349.90000000000003" stroke="#000" stroke-width="1.9" />
<line x1="865.8000000000001" y1="374.2" x2="873.4" y2="374.2" stroke="#000" stroke-width="1.8" />
<line x1="869.6" y1="370.4" x2="869.6" y2="378.0" stroke="#000" stroke-width="1.8" />
<line x1="892.2" y1="347.8" x2="899.8" y2="347.8" stroke="#000" stroke-width="1.8" />
<line x1="896" y1="344.0" x2="896" y2="351.6" stroke="#000" stroke-width="1.8" />
<line x1="891.8" y1="376.3" x2="900.2" y2="376.3" stroke="#000" stroke-width="1.9" />
<line x1="918.2" y1="347.8" x2="925.8" y2="347.8" stroke="#000" stroke-width="1.8" />
<line x1="922" y1="344.0" x2="922" y2="351.6" stroke="#000" stroke-width="1.8" />
<line x1="918.2" y1="374.2" x2="925.8" y2="374.2" stroke="#000" stroke-width="1.8" />
<line x1="922" y1="370.4" x2="922" y2="378.0" stroke="#000" stroke-width="1.8" />
<line x1="950.4" y1="349.90000000000003" x2="958.8000000000001" y2="349.90000000000003" stroke="#000" stroke-width="1.9" />
<line x1="950.4" y1="376.3" x2="958.8000000000001" y2="376.3" stroke="#000" stroke-width="1.9" />
<line x1="976.1999999999999" y1="349.90000000000003" x2="984.6" y2="349.90000000000003" stroke="#000" stroke-width="1.9" />
<line x1="976.6" y1="374.2" x2="984.1999999999999" y2="374.2" stroke="#000" stroke-width="1.8" />
<line x1="980.4" y1="370.4" x2="980.4" y2="378.0" stroke="#000" stroke-width="1.8" />
<line x1="1000.9000000000001" y1="347.8" x2="1008.5" y2="347.8" stroke="#000" stroke-width="1.8" />
<line x1="1004.7" y1="344.0" x2="1004.7" y2="351.6" stroke="#000" stroke-width="1.8" />
<line x1="1000.5" y1="376.3" x2="1008.9000000000001" y2="376.3" stroke="#000" stroke-width="1.9" />
<line x1="1025.0" y1="347.8" x2="1032.6" y2="347.8" stroke="#000" stroke-width="1.8" />
<line x1="1028.8" y1="344.0" x2="1028.8" y2="351.6" stroke="#000" stroke-width="1.8" />
<line x1="1025.0" y1="374.2" x2="1032.6" y2="374.2" stroke="#000" stroke-width="1.8" />
<line x1="1028.8" y1="370.4" x2="1028.8" y2="378.0" stroke="#000" stroke-width="1.8" />
<text x="817.6" y="409.5" font-size="14.6" text-anchor="end" font-weight="bold" fill="#000" stroke="#000" stroke-width=".22" >p-AKT(Ser473)</text>
<clipPath id="ce0"><rect x="826.9" y="389.9" width="222.10000000000002" height="27.600000000000023"/></clipPath>
<rect x="826.9" y="389.9" width="222.10000000000002" height="27.600000000000023" fill="#d2d2d2"/>
<g clip-path="url(#ce0)">
<path d="M833.4,397.8 L834.9,400.4 L836.5,402.0 L838.0,402.9 L839.6,403.4 L841.1,403.5 L842.7,403.5 L844.2,403.6 L845.7,403.5 L847.3,403.5 L848.8,403.4 L850.4,402.9 L851.9,402.0 L853.5,400.4 L855.0,397.8 L855.0,407.2 L853.5,408.6 L851.9,409.4 L850.4,409.7 L848.8,409.8 L847.3,409.8 L845.7,409.8 L844.2,409.8 L842.7,409.8 L841.1,409.8 L839.6,409.8 L838.0,409.7 L836.5,409.4 L834.9,408.6 L833.4,407.2 Z" fill="#000" stroke="#000" stroke-width="3.00" stroke-linejoin="round" opacity="1" filter="url(#b1)"/>
<path d="M862.1,398.8 L863.5,401.2 L865.0,402.7 L866.4,403.6 L867.9,404.0 L869.3,404.1 L870.8,404.1 L872.2,404.1 L873.7,404.1 L875.1,404.1 L876.6,404.0 L878.0,403.6 L879.5,402.7 L880.9,401.2 L882.4,398.8 L882.4,407.2 L880.9,408.6 L879.5,409.4 L878.0,409.7 L876.6,409.8 L875.1,409.8 L873.7,409.8 L872.2,409.9 L870.8,409.8 L869.3,409.8 L867.9,409.8 L866.4,409.7 L865.0,409.4 L863.5,408.6 L862.1,407.2 Z" fill="#000" stroke="#000" stroke-width="3.00" stroke-linejoin="round" opacity="1" filter="url(#b1)"/>
<path d="M943.1,402.7 L944.6,403.5 L946.0,404.0 L947.5,404.3 L948.9,404.4 L950.4,404.5 L951.8,404.5 L953.3,404.5 L954.8,404.5 L956.2,404.5 L957.6,404.3 L959.1,403.7 L960.5,402.6 L962.0,400.6 L963.4,397.3 L963.4,407.1 L962.0,408.4 L960.5,409.1 L959.1,409.4 L957.6,409.5 L956.2,409.5 L954.8,409.5 L953.3,409.5 L951.8,409.5 L950.4,409.5 L948.9,409.5 L947.5,409.4 L946.0,409.1 L944.6,408.4 L943.1,407.1 Z" fill="#000" stroke="#000" stroke-width="3.00" stroke-linejoin="round" opacity="1" filter="url(#b1)"/>
<path d="M970.6,402.5 L972.0,403.2 L973.4,403.7 L974.8,403.9 L976.3,404.0 L977.7,404.1 L979.1,404.1 L980.5,404.1 L981.9,404.1 L983.3,404.1 L984.7,403.9 L986.2,403.4 L987.6,402.5 L989.0,400.8 L990.4,397.9 L990.4,406.5 L989.0,407.8 L987.6,408.5 L986.2,408.8 L984.7,408.9 L983.3,408.9 L981.9,408.9 L980.5,408.9 L979.1,408.9 L977.7,408.9 L976.3,408.9 L974.8,408.8 L973.4,408.5 L972.0,407.8 L970.6,406.5 Z" fill="#000" stroke="#000" stroke-width="3.00" stroke-linejoin="round" opacity="1" filter="url(#b1)"/>
</g>
<rect x="828.1999999999999" y="391.2" width="219.50000000000003" height="25.00000000000002" fill="none" stroke="#fff" stroke-opacity=".4" stroke-width="1"/>
<rect x="826.9" y="389.9" width="222.10000000000002" height="27.600000000000023" fill="none" stroke="#000" stroke-width="1.6"/>
<text x="817.6" y="441.4" font-size="14.6" text-anchor="end" font-weight="bold" fill="#000" stroke="#000" stroke-width=".22" >AKT</text>
<clipPath id="ce1"><rect x="826.9" y="423.3" width="222.10000000000002" height="27.399999999999977"/></clipPath>
<rect x="826.9" y="423.3" width="222.10000000000002" height="27.399999999999977" fill="#d0d0d0"/>
<g clip-path="url(#ce1)">
<path d="M833.0,429.9 L834.6,432.6 L836.1,434.2 L837.7,435.1 L839.2,435.5 L840.7,435.7 L842.3,435.7 L843.8,435.7 L845.3,435.7 L846.9,435.7 L848.4,435.5 L849.9,435.1 L851.5,434.2 L853.0,432.6 L854.5,429.9 L854.5,439.9 L853.0,441.3 L851.5,442.0 L849.9,442.3 L848.4,442.5 L846.9,442.5 L845.3,442.5 L843.8,442.5 L842.3,442.5 L840.7,442.5 L839.2,442.5 L837.7,442.3 L836.1,442.0 L834.6,441.3 L833.0,439.9 Z" fill="#000" stroke="#000" stroke-width="3.00" stroke-linejoin="round" opacity="1" filter="url(#b1)"/>
<path d="M860.8,429.9 L862.3,432.6 L863.8,434.2 L865.3,435.1 L866.8,435.5 L868.3,435.7 L869.8,435.7 L871.3,435.7 L872.8,435.7 L874.3,435.7 L875.8,435.5 L877.3,435.1 L878.8,434.2 L880.3,432.6 L881.8,429.9 L881.8,439.9 L880.3,441.3 L878.8,442.0 L877.3,442.3 L875.8,442.5 L874.3,442.5 L872.8,442.5 L871.3,442.5 L869.8,442.5 L868.3,442.5 L866.8,442.5 L865.3,442.3 L863.8,442.0 L862.3,441.3 L860.8,439.9 Z" fill="#000" stroke="#000" stroke-width="3.00" stroke-linejoin="round" opacity="1" filter="url(#b1)"/>
<path d="M888.2,432.8 L889.7,435.2 L891.1,436.7 L892.6,437.5 L894.0,437.9 L895.4,438.1 L896.9,438.1 L898.3,438.1 L899.7,438.1 L901.2,438.1 L902.6,437.9 L904.0,437.5 L905.5,436.7 L906.9,435.2 L908.3,432.8 L908.3,440.5 L906.9,441.9 L905.5,442.6 L904.0,442.9 L902.6,443.1 L901.2,443.1 L899.7,443.1 L898.3,443.1 L896.9,443.1 L895.4,443.1 L894.0,443.1 L892.6,442.9 L891.1,442.6 L889.7,441.9 L888.2,440.5 Z" fill="#000" stroke="#000" stroke-width="3.00" stroke-linejoin="round" opacity="1" filter="url(#b1)"/>
<path d="M915.8,432.8 L917.2,435.5 L918.6,437.2 L920.0,438.1 L921.4,438.5 L922.8,438.7 L924.2,438.7 L925.6,438.7 L927.0,438.7 L928.4,438.7 L929.8,438.5 L931.2,438.1 L932.6,437.2 L934.0,435.5 L935.5,432.8 L935.5,439.9 L934.0,441.3 L932.6,442.0 L931.2,442.3 L929.8,442.5 L928.4,442.5 L927.0,442.5 L925.6,442.5 L924.2,442.5 L922.8,442.5 L921.4,442.5 L920.0,442.3 L918.6,442.0 L917.2,441.3 L915.8,439.9 Z" fill="#000" stroke="#000" stroke-width="3.00" stroke-linejoin="round" opacity="1" filter="url(#b1)"/>
<path d="M942.0,430.5 L943.5,432.6 L945.0,433.9 L946.5,434.6 L948.0,434.9 L949.6,435.1 L951.1,435.1 L952.6,435.1 L954.1,435.1 L955.6,435.1 L957.2,434.9 L958.7,434.6 L960.2,433.9 L961.7,432.6 L963.2,430.5 L963.2,439.9 L961.7,441.3 L960.2,442.0 L958.7,442.3 L957.2,442.5 L955.6,442.5 L954.1,442.5 L952.6,442.5 L951.1,442.5 L949.6,442.5 L948.0,442.5 L946.5,442.3 L945.0,442.0 L943.5,441.3 L942.0,439.9 Z" fill="#000" stroke="#000" stroke-width="3.00" stroke-linejoin="round" opacity="1" filter="url(#b1)"/>
<path d="M969.1,430.5 L970.6,432.6 L972.1,433.9 L973.6,434.6 L975.1,434.9 L976.6,435.1 L978.1,435.1 L979.6,435.1 L981.1,435.1 L982.6,435.1 L984.1,434.9 L985.6,434.6 L987.1,433.9 L988.6,432.6 L990.1,430.5 L990.1,439.9 L988.6,441.3 L987.1,442.0 L985.6,442.3 L984.1,442.5 L982.6,442.5 L981.1,442.5 L979.6,442.5 L978.1,442.5 L976.6,442.5 L975.1,442.5 L973.6,442.3 L972.1,442.0 L970.6,441.3 L969.1,439.9 Z" fill="#000" stroke="#000" stroke-width="3.00" stroke-linejoin="round" opacity="1" filter="url(#b1)"/>
<path d="M996.7,432.8 L998.1,435.0 L999.5,436.3 L1000.9,437.0 L1002.2,437.3 L1003.6,437.5 L1005.0,437.5 L1006.4,437.5 L1007.8,437.5 L1009.2,437.5 L1010.6,437.3 L1011.9,437.0 L1013.3,436.3 L1014.7,435.0 L1016.1,432.8 L1016.1,439.3 L1014.7,440.7 L1013.3,441.4 L1011.9,441.7 L1010.6,441.9 L1009.2,441.9 L1007.8,441.9 L1006.4,441.9 L1005.0,441.9 L1003.6,441.9 L1002.2,441.9 L1000.9,441.7 L999.5,441.4 L998.1,440.7 L996.7,439.3 Z" fill="#000" stroke="#000" stroke-width="3.00" stroke-linejoin="round" opacity="1" filter="url(#b1)"/>
<path d="M1024.0,435.1 L1025.3,436.6 L1026.7,437.5 L1028.1,438.0 L1029.5,438.3 L1030.9,438.4 L1032.3,438.4 L1033.7,438.4 L1035.1,438.4 L1036.5,438.4 L1037.9,438.2 L1039.3,437.7 L1040.7,436.8 L1042.1,435.0 L1043.5,432.1 L1043.5,438.2 L1042.1,439.6 L1040.7,440.3 L1039.3,440.6 L1037.9,440.8 L1036.5,440.8 L1035.1,440.8 L1033.7,440.8 L1032.3,440.8 L1030.9,440.8 L1029.5,440.8 L1028.1,440.6 L1026.7,440.3 L1025.3,439.6 L1024.0,438.2 Z" fill="#000" stroke="#000" stroke-width="3.00" stroke-linejoin="round" opacity="0.88" filter="url(#b1)"/>
</g>
<rect x="828.1999999999999" y="424.6" width="219.50000000000003" height="24.799999999999976" fill="none" stroke="#fff" stroke-opacity=".4" stroke-width="1"/>
<rect x="826.9" y="423.3" width="222.10000000000002" height="27.399999999999977" fill="none" stroke="#000" stroke-width="1.6"/>
<text x="817.6" y="476.7" font-size="14.6" text-anchor="end" font-weight="bold" fill="#000" stroke="#000" stroke-width=".22" >MCL-1</text>
<clipPath id="ce2"><rect x="826.9" y="454.9" width="222.10000000000002" height="27.600000000000023"/></clipPath>
<rect x="826.9" y="454.9" width="222.10000000000002" height="27.600000000000023" fill="#d6d6d6"/>
<g clip-path="url(#ce2)">
<path d="M832.2,461.0 L833.7,463.2 L835.1,464.8 L836.5,465.9 L837.9,466.5 L839.3,466.9 L840.7,467.0 L842.1,467.0 L843.5,467.0 L844.9,466.9 L846.3,466.8 L847.7,466.4 L849.1,465.9 L850.5,465.1 L852.0,464.0 L852.0,467.5 L850.5,468.3 L849.1,468.7 L847.7,468.9 L846.3,469.0 L844.9,469.0 L843.5,469.0 L842.1,469.0 L840.7,469.0 L839.3,469.0 L837.9,469.0 L836.5,468.9 L835.1,468.7 L833.7,468.3 L832.2,467.5 Z" fill="#000" stroke="#000" stroke-width="3.00" stroke-linejoin="round" opacity="0.25" filter="url(#b2)"/>
<path d="M832.2,467.8 L833.6,468.5 L835.0,469.0 L836.4,469.3 L837.9,469.5 L839.3,469.6 L840.7,469.6 L842.1,469.6 L843.5,469.6 L844.9,469.6 L846.3,469.5 L847.8,469.3 L849.2,469.0 L850.6,468.5 L852.0,467.8 L852.0,470.6 L850.6,470.9 L849.2,471.2 L847.8,471.4 L846.3,471.5 L844.9,471.5 L843.5,471.6 L842.1,471.6 L840.7,471.6 L839.3,471.5 L837.9,471.5 L836.4,471.4 L835.0,471.2 L833.6,470.9 L832.2,470.6 Z" fill="#000" stroke="#000" stroke-width="2.88" stroke-linejoin="round" opacity="0.6" filter="url(#b2)"/>
<path d="M861.9,464.8 L863.2,465.9 L864.5,466.7 L865.8,467.2 L867.1,467.6 L868.4,467.7 L869.7,467.8 L871.0,467.8 L872.3,467.8 L873.6,467.7 L874.9,467.6 L876.2,467.2 L877.5,466.7 L878.8,465.9 L880.1,464.8 L880.1,468.3 L878.8,469.1 L877.5,469.5 L876.2,469.7 L874.9,469.8 L873.6,469.8 L872.3,469.8 L871.0,469.8 L869.7,469.8 L868.4,469.8 L867.1,469.8 L865.8,469.7 L864.5,469.5 L863.2,469.1 L861.9,468.3 Z" fill="#000" stroke="#000" stroke-width="3.00" stroke-linejoin="round" opacity="0.3" filter="url(#b2)"/>
<path d="M861.9,468.2 L863.2,468.8 L864.5,469.2 L865.8,469.5 L867.1,469.7 L868.4,469.8 L869.7,469.8 L871.0,469.8 L872.3,469.8 L873.6,469.8 L874.9,469.7 L876.2,469.5 L877.5,469.2 L878.8,468.8 L880.1,468.2 L880.1,471.8 L878.8,472.1 L877.5,472.3 L876.2,472.5 L874.9,472.5 L873.6,472.6 L872.3,472.6 L871.0,472.6 L869.7,472.6 L868.4,472.6 L867.1,472.5 L865.8,472.5 L864.5,472.3 L863.2,472.1 L861.9,471.8 Z" fill="#000" stroke="#000" stroke-width="3.00" stroke-linejoin="round" opacity="0.92" filter="url(#b1)"/>
<path d="M889.45,470.40 C892.95,471.20 903.45,471.20 906.95,470.40 L906.95,471.87 C903.45,472.31 892.95,472.31 889.45,471.87 Z" fill="#000" stroke="#000" stroke-width="1.80" stroke-linejoin="round" opacity="0.2" filter="url(#b2)"/>
<path d="M917.55,469.80 C920.93,470.60 931.07,470.60 934.45,469.80 L934.45,471.27 C931.07,471.71 920.93,471.71 917.55,471.27 Z" fill="#000" stroke="#000" stroke-width="1.80" stroke-linejoin="round" opacity="0.16" filter="url(#b2)"/>
<rect x="943" y="470" width="20" height="8" fill="#000" fill-opacity=".12" filter="url(#b2)"/>
<rect x="970" y="470" width="20.5" height="9" fill="#000" fill-opacity=".16" filter="url(#b2)"/>
<path d="M944.40,468.30 C947.88,468.30 958.32,468.39 961.80,464.00 L961.80,468.00 C958.32,469.73 947.88,470.53 944.40,469.60 Z" fill="#000" stroke="#000" stroke-width="3.00" stroke-linejoin="round" opacity="0.72" filter="url(#b2)"/>
<path d="M971.20,467.10 C974.80,467.00 985.60,467.02 989.20,462.00 L989.20,467.40 C985.60,469.50 974.80,470.50 971.20,469.40 Z" fill="#000" stroke="#000" stroke-width="3.00" stroke-linejoin="round" opacity="1" filter="url(#b1)"/>
<path d="M998.40,466.10 C1001.76,466.90 1011.84,466.90 1015.20,466.10 L1015.20,467.97 C1011.84,468.41 1001.76,468.41 998.40,467.97 Z" fill="#000" stroke="#000" stroke-width="2.40" stroke-linejoin="round" opacity="0.2" filter="url(#b2)"/>
<path d="M1025.70,466.30 C1029.02,466.30 1038.98,467.12 1042.30,463.80 L1042.30,467.37 C1038.98,467.81 1029.02,467.81 1025.70,467.37 Z" fill="#000" stroke="#000" stroke-width="2.10" stroke-linejoin="round" opacity="0.16" filter="url(#b2)"/>
</g>
<rect x="828.1999999999999" y="456.2" width="219.50000000000003" height="25.00000000000002" fill="none" stroke="#fff" stroke-opacity=".4" stroke-width="1"/>
<rect x="826.9" y="454.9" width="222.10000000000002" height="27.600000000000023" fill="none" stroke="#000" stroke-width="1.6"/>
<text x="817.6" y="509" font-size="14.6" text-anchor="end" font-weight="bold" fill="#000" stroke="#000" stroke-width=".22" >c-PARP</text>
<clipPath id="ce3"><rect x="826.9" y="488.3" width="222.10000000000002" height="27.400000000000034"/></clipPath>
<rect x="826.9" y="488.3" width="222.10000000000002" height="27.400000000000034" fill="#d4d4d4"/>
<g clip-path="url(#ce3)">
<ellipse cx="898.9" cy="499" rx="9.0" ry="0.85" fill="#000" opacity="0.6" filter="url(#b0)"/>
<path d="M917.26,497.66 C920.96,497.93 932.04,498.36 935.74,496.36 L935.74,499.54 C932.04,499.54 920.96,499.54 917.26,499.54 Z" fill="#000" stroke="#000" stroke-width="2.52" stroke-linejoin="round" opacity="1" filter="url(#b0)"/>
<path d="M931,497.4 L936.7,491.8 L936.4,500 Z" fill="#000" stroke="#000" stroke-width="1" stroke-linejoin="round" filter="url(#b0)"/>
<path d="M997.32,497.22 C1000.99,497.88 1012.01,498.58 1015.68,495.12 L1015.68,497.88 C1012.01,498.94 1000.99,498.94 997.32,497.88 Z" fill="#000" stroke="#000" stroke-width="1.44" stroke-linejoin="round" opacity="0.72" filter="url(#b0)"/>
<path d="M1024.88,496.88 C1028.53,498.21 1039.47,499.20 1043.12,493.88 L1043.12,498.92 C1039.47,499.98 1028.53,499.98 1024.88,498.92 Z" fill="#000" stroke="#000" stroke-width="2.76" stroke-linejoin="round" opacity="1" filter="url(#b0)"/>
</g>
<rect x="828.1999999999999" y="489.6" width="219.50000000000003" height="24.800000000000033" fill="none" stroke="#fff" stroke-opacity=".4" stroke-width="1"/>
<rect x="826.9" y="488.3" width="222.10000000000002" height="27.400000000000034" fill="none" stroke="#000" stroke-width="1.6"/>
<text x="817.6" y="549.7" font-size="14.6" text-anchor="end" font-weight="bold" fill="#000" stroke="#000" stroke-width=".22" >c-Casp3</text>
<clipPath id="ce4"><rect x="826.9" y="520.6" width="222.10000000000002" height="44.60000000000002"/></clipPath>
<rect x="826.9" y="520.6" width="222.10000000000002" height="44.60000000000002" fill="#d8d8d8"/>
<g clip-path="url(#ce4)">
<ellipse cx="897" cy="529.3" rx="9.1" ry="0.7" fill="#000" opacity="0.38" filter="url(#b0)"/>
<ellipse cx="897.7" cy="555.7" rx="11.25" ry="1.8" fill="#000" opacity="0.65" filter="url(#b1)"/>
<path d="M914.70,527.90 C918.58,526.97 930.22,526.76 934.10,524.50 L934.10,528.90 C930.22,529.30 918.58,530.10 914.70,530.50 Z" fill="#000" stroke="#000" stroke-width="3.00" stroke-linejoin="round" opacity="1" filter="url(#b1)"/>
<path d="M916.50,546.10 C919.94,545.70 930.26,544.90 933.70,544.50 L933.70,546.10 C930.26,546.50 919.94,547.30 916.50,547.70 Z" fill="#000" stroke="#000" stroke-width="2.40" stroke-linejoin="round" opacity="0.42" filter="url(#b1)"/>
<path d="M914.50,553.10 C918.70,552.85 931.30,552.35 935.50,552.10 L935.50,556.50 C931.30,556.75 918.70,557.25 914.50,557.50 Z" fill="#000" stroke="#000" stroke-width="3.00" stroke-linejoin="round" opacity="1" filter="url(#b1)"/>
<ellipse cx="1005" cy="529.4" rx="9.1" ry="0.75" fill="#000" opacity="0.42" filter="url(#b0)"/>
<ellipse cx="1004.9" cy="555.7" rx="10.65" ry="1.8" fill="#000" opacity="0.78" filter="url(#b1)"/>
<path d="M1022.70,528.30 C1026.86,528.10 1039.34,527.70 1043.50,527.50 L1043.50,530.50 C1039.34,530.70 1026.86,531.10 1022.70,531.30 Z" fill="#000" stroke="#000" stroke-width="3.00" stroke-linejoin="round" opacity="1" filter="url(#b1)"/>
<path d="M1024.90,546.50 C1028.54,546.50 1039.46,546.50 1043.10,546.50 L1043.10,548.10 C1039.46,548.10 1028.54,548.10 1024.90,548.10 Z" fill="#000" stroke="#000" stroke-width="2.40" stroke-linejoin="round" opacity="0.42" filter="url(#b1)"/>
<path d="M1022.60,553.50 C1027.00,553.50 1040.20,553.50 1044.60,553.50 L1044.60,557.90 C1040.20,557.90 1027.00,557.90 1022.60,557.90 Z" fill="#000" stroke="#000" stroke-width="3.00" stroke-linejoin="round" opacity="1" filter="url(#b1)"/>
</g>
<rect x="828.1999999999999" y="521.9" width="219.50000000000003" height="42.00000000000002" fill="none" stroke="#fff" stroke-opacity=".4" stroke-width="1"/>
<rect x="826.9" y="520.6" width="222.10000000000002" height="44.60000000000002" fill="none" stroke="#000" stroke-width="1.6"/>
<text x="817.6" y="587.4" font-size="14.6" text-anchor="end" font-weight="bold" fill="#000" stroke="#000" stroke-width=".22" >β-actin</text>
<clipPath id="ce5"><rect x="826.9" y="569.4" width="222.10000000000002" height="27.0"/></clipPath>
<rect x="826.9" y="569.4" width="222.10000000000002" height="27.0" fill="#cecece"/>
<g clip-path="url(#ce5)">
<path d="M832.6,571.0 L834.3,574.3 L835.9,576.3 L837.5,577.4 L839.1,578.0 L840.8,578.2 L842.4,578.2 L844.0,578.2 L845.6,578.2 L847.2,578.2 L848.9,578.0 L850.5,577.4 L852.1,576.3 L853.7,574.3 L855.4,571.0 L855.4,581.3 L853.7,582.9 L852.1,583.7 L850.5,584.1 L848.9,584.3 L847.2,584.3 L845.6,584.3 L844.0,584.3 L842.4,584.3 L840.8,584.3 L839.1,584.3 L837.5,584.1 L835.9,583.7 L834.3,582.9 L832.6,581.3 Z" fill="#000" stroke="#000" stroke-width="3.00" stroke-linejoin="round" opacity="1" filter="url(#b1)"/>
<path d="M861.5,571.0 L863.0,574.3 L864.5,576.3 L866.1,577.4 L867.6,578.0 L869.1,578.2 L870.7,578.2 L872.2,578.2 L873.7,578.2 L875.3,578.2 L876.8,578.0 L878.3,577.4 L879.9,576.3 L881.4,574.3 L883.0,571.0 L883.0,581.3 L881.4,582.9 L879.9,583.7 L878.3,584.1 L876.8,584.3 L875.3,584.3 L873.7,584.3 L872.2,584.3 L870.7,584.3 L869.1,584.3 L867.6,584.3 L866.1,584.1 L864.5,583.7 L863.0,582.9 L861.5,581.3 Z" fill="#000" stroke="#000" stroke-width="3.00" stroke-linejoin="round" opacity="1" filter="url(#b1)"/>
<path d="M888.7,571.0 L890.2,573.7 L891.7,575.3 L893.2,576.2 L894.6,576.6 L896.1,576.8 L897.6,576.8 L899.1,576.8 L900.6,576.8 L902.1,576.8 L903.6,576.6 L905.0,576.2 L906.5,575.3 L908.0,573.7 L909.5,571.0 L909.5,579.9 L908.0,581.5 L906.5,582.3 L905.0,582.7 L903.6,582.9 L902.1,582.9 L900.6,582.9 L899.1,582.9 L897.6,582.9 L896.1,582.9 L894.6,582.9 L893.2,582.7 L891.7,582.3 L890.2,581.5 L888.7,579.9 Z" fill="#000" stroke="#000" stroke-width="3.00" stroke-linejoin="round" opacity="1" filter="url(#b1)"/>
<path d="M916.2,571.0 L917.6,573.3 L919.0,574.8 L920.5,575.6 L921.9,575.9 L923.3,576.1 L924.8,576.1 L926.2,576.1 L927.6,576.1 L929.1,576.1 L930.5,575.9 L931.9,575.6 L933.4,574.8 L934.8,573.3 L936.2,571.0 L936.2,579.2 L934.8,580.8 L933.4,581.6 L931.9,582.0 L930.5,582.2 L929.1,582.2 L927.6,582.2 L926.2,582.2 L924.8,582.2 L923.3,582.2 L921.9,582.2 L920.5,582.0 L919.0,581.6 L917.6,580.8 L916.2,579.2 Z" fill="#000" stroke="#000" stroke-width="3.00" stroke-linejoin="round" opacity="1" filter="url(#b1)"/>
<path d="M942.7,571.0 L944.1,573.3 L945.4,574.8 L946.8,575.6 L948.2,575.9 L949.6,576.1 L950.9,576.1 L952.3,576.1 L953.7,576.1 L955.0,576.1 L956.4,575.9 L957.8,575.6 L959.2,574.8 L960.5,573.3 L961.9,571.0 L961.9,579.2 L960.5,580.8 L959.2,581.6 L957.8,582.0 L956.4,582.2 L955.0,582.2 L953.7,582.2 L952.3,582.2 L950.9,582.2 L949.6,582.2 L948.2,582.2 L946.8,582.0 L945.4,581.6 L944.1,580.8 L942.7,579.2 Z" fill="#000" stroke="#000" stroke-width="3.00" stroke-linejoin="round" opacity="1" filter="url(#b1)"/>
<path d="M968.1,571.0 L969.7,574.3 L971.2,576.3 L972.8,577.4 L974.4,578.0 L975.9,578.2 L977.5,578.2 L979.0,578.2 L980.5,578.2 L982.1,578.2 L983.6,578.0 L985.2,577.4 L986.8,576.3 L988.3,574.3 L989.9,571.0 L989.9,580.6 L988.3,582.2 L986.8,583.0 L985.2,583.4 L983.6,583.6 L982.1,583.6 L980.5,583.6 L979.0,583.6 L977.5,583.6 L975.9,583.6 L974.4,583.6 L972.8,583.4 L971.2,583.0 L969.7,582.2 L968.1,580.6 Z" fill="#000" stroke="#000" stroke-width="3.00" stroke-linejoin="round" opacity="1" filter="url(#b1)"/>
<path d="M995.7,571.0 L997.2,574.0 L998.8,575.8 L1000.3,576.8 L1001.8,577.3 L1003.3,577.5 L1004.9,577.5 L1006.4,577.5 L1007.9,577.5 L1009.5,577.5 L1011.0,577.3 L1012.5,576.8 L1014.0,575.8 L1015.6,574.0 L1017.1,571.0 L1017.1,579.9 L1015.6,581.5 L1014.0,582.3 L1012.5,582.7 L1011.0,582.9 L1009.5,582.9 L1007.9,582.9 L1006.4,582.9 L1004.9,582.9 L1003.3,582.9 L1001.8,582.9 L1000.3,582.7 L998.8,582.3 L997.2,581.5 L995.7,579.9 Z" fill="#000" stroke="#000" stroke-width="3.00" stroke-linejoin="round" opacity="1" filter="url(#b1)"/>
<path d="M1024.1,571.0 L1025.6,574.3 L1027.1,576.3 L1028.6,577.4 L1030.0,578.0 L1031.5,578.2 L1033.0,578.2 L1034.5,578.2 L1036.0,578.2 L1037.5,578.2 L1039.0,578.0 L1040.4,577.4 L1041.9,576.3 L1043.4,574.3 L1044.9,571.0 L1044.9,580.6 L1043.4,582.2 L1041.9,583.0 L1040.4,583.4 L1039.0,583.6 L1037.5,583.6 L1036.0,583.6 L1034.5,583.6 L1033.0,583.6 L1031.5,583.6 L1030.0,583.6 L1028.6,583.4 L1027.1,583.0 L1025.6,582.2 L1024.1,580.6 Z" fill="#000" stroke="#000" stroke-width="3.00" stroke-linejoin="round" opacity="1" filter="url(#b1)"/>
</g>
<rect x="828.1999999999999" y="570.6999999999999" width="219.50000000000003" height="24.4" fill="none" stroke="#fff" stroke-opacity=".4" stroke-width="1"/>
<rect x="826.9" y="569.4" width="222.10000000000002" height="27.0" fill="none" stroke="#000" stroke-width="1.6"/>
</svg>
</body></html>
